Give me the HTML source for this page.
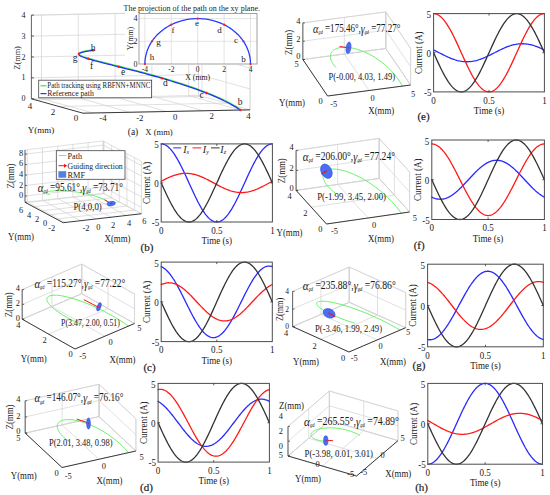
<!DOCTYPE html><html><head><meta charset="utf-8"><style>html,body{margin:0;padding:0;background:#fff;}svg{display:block;} .b{stroke:#222;stroke-width:0.2px;}</style></head><body><svg width="550" height="495" viewBox="0 0 550 495" font-family="Liberation Serif">
<rect width="550" height="495" fill="#fff"/>
<line x1="41.52" y1="98.59" x2="41.52" y2="14.99" stroke="#d2d2d2" stroke-width="0.7"/>
<line x1="78.32" y1="97.85" x2="78.32" y2="14.25" stroke="#d2d2d2" stroke-width="0.7"/>
<line x1="115.12" y1="97.11" x2="115.12" y2="13.51" stroke="#d2d2d2" stroke-width="0.7"/>
<line x1="151.92" y1="96.37" x2="151.92" y2="12.77" stroke="#d2d2d2" stroke-width="0.7"/>
<line x1="188.72" y1="95.63" x2="188.72" y2="12.03" stroke="#d2d2d2" stroke-width="0.7"/>
<line x1="31.4" y1="98.8" x2="31.4" y2="15.2" stroke="#d2d2d2" stroke-width="0.7"/>
<line x1="198.47" y1="95.44" x2="198.47" y2="11.84" stroke="#d2d2d2" stroke-width="0.7"/>
<line x1="31.4" y1="77.9" x2="198.47" y2="74.54" stroke="#d2d2d2" stroke-width="0.7"/>
<line x1="31.4" y1="57" x2="198.47" y2="53.64" stroke="#d2d2d2" stroke-width="0.7"/>
<line x1="31.4" y1="36.1" x2="198.47" y2="32.74" stroke="#d2d2d2" stroke-width="0.7"/>
<line x1="31.4" y1="15.2" x2="198.47" y2="11.84" stroke="#d2d2d2" stroke-width="0.7"/>
<line x1="31.4" y1="98.8" x2="198.47" y2="95.44" stroke="#d2d2d2" stroke-width="0.7"/>
<line x1="31.4" y1="15.2" x2="198.47" y2="11.84" stroke="#d2d2d2" stroke-width="0.7"/>
<line x1="250.07" y1="109.84" x2="250.07" y2="26.24" stroke="#d2d2d2" stroke-width="0.7"/>
<line x1="226.07" y1="103.14" x2="226.07" y2="19.54" stroke="#d2d2d2" stroke-width="0.7"/>
<line x1="202.07" y1="96.44" x2="202.07" y2="12.84" stroke="#d2d2d2" stroke-width="0.7"/>
<line x1="250.07" y1="109.84" x2="250.07" y2="26.24" stroke="#d2d2d2" stroke-width="0.7"/>
<line x1="198.47" y1="95.44" x2="198.47" y2="11.84" stroke="#d2d2d2" stroke-width="0.7"/>
<line x1="250.07" y1="88.94" x2="198.47" y2="74.54" stroke="#d2d2d2" stroke-width="0.7"/>
<line x1="250.07" y1="68.04" x2="198.47" y2="53.64" stroke="#d2d2d2" stroke-width="0.7"/>
<line x1="250.07" y1="47.14" x2="198.47" y2="32.74" stroke="#d2d2d2" stroke-width="0.7"/>
<line x1="250.07" y1="26.24" x2="198.47" y2="11.84" stroke="#d2d2d2" stroke-width="0.7"/>
<line x1="250.07" y1="109.84" x2="198.47" y2="95.44" stroke="#d2d2d2" stroke-width="0.7"/>
<line x1="250.07" y1="26.24" x2="198.47" y2="11.84" stroke="#d2d2d2" stroke-width="0.7"/>
<line x1="93.12" y1="113" x2="41.52" y2="98.59" stroke="#d2d2d2" stroke-width="0.7"/>
<line x1="129.92" y1="112.26" x2="78.32" y2="97.85" stroke="#d2d2d2" stroke-width="0.7"/>
<line x1="166.72" y1="111.52" x2="115.12" y2="97.11" stroke="#d2d2d2" stroke-width="0.7"/>
<line x1="203.52" y1="110.78" x2="151.92" y2="96.37" stroke="#d2d2d2" stroke-width="0.7"/>
<line x1="240.32" y1="110.04" x2="188.72" y2="95.63" stroke="#d2d2d2" stroke-width="0.7"/>
<line x1="83" y1="113.2" x2="250.07" y2="109.84" stroke="#d2d2d2" stroke-width="0.7"/>
<line x1="59" y1="106.5" x2="226.07" y2="103.14" stroke="#d2d2d2" stroke-width="0.7"/>
<line x1="35" y1="99.8" x2="202.07" y2="96.44" stroke="#d2d2d2" stroke-width="0.7"/>
<rect x="125" y="0" width="138" height="65" fill="#fff"/>
<line x1="31.4" y1="98.8" x2="83" y2="113.2" stroke="#3a3a3a" stroke-width="1"/>
<line x1="83" y1="113.2" x2="250.07" y2="109.84" stroke="#3a3a3a" stroke-width="1"/>
<line x1="31.4" y1="98.8" x2="31.4" y2="15.2" stroke="#666" stroke-width="1"/>
<line x1="31.4" y1="98.8" x2="33.9" y2="98.7" stroke="#333333" stroke-width="0.8"/>
<text x="0" y="0" font-size="8" text-anchor="end" dominant-baseline="central" fill="#1a1a1a" transform="translate(25.6 98.8) scale(1.0 1)" >0</text>
<line x1="31.4" y1="77.9" x2="33.9" y2="77.8" stroke="#333333" stroke-width="0.8"/>
<text x="0" y="0" font-size="8" text-anchor="end" dominant-baseline="central" fill="#1a1a1a" transform="translate(25.6 77.9) scale(1.0 1)" >1</text>
<line x1="31.4" y1="57" x2="33.9" y2="56.9" stroke="#333333" stroke-width="0.8"/>
<text x="0" y="0" font-size="8" text-anchor="end" dominant-baseline="central" fill="#1a1a1a" transform="translate(25.6 57) scale(1.0 1)" >2</text>
<line x1="31.4" y1="36.1" x2="33.9" y2="36" stroke="#333333" stroke-width="0.8"/>
<text x="0" y="0" font-size="8" text-anchor="end" dominant-baseline="central" fill="#1a1a1a" transform="translate(25.6 36.1) scale(1.0 1)" >3</text>
<line x1="31.4" y1="15.2" x2="33.9" y2="15.1" stroke="#333333" stroke-width="0.8"/>
<text x="0" y="0" font-size="8" text-anchor="end" dominant-baseline="central" fill="#1a1a1a" transform="translate(25.6 15.2) scale(1.0 1)" >4</text>
<text x="0" y="0" font-size="9" text-anchor="middle" dominant-baseline="central" fill="#1a1a1a" transform="translate(30 105.6) scale(1.0 1)" >4</text>
<text x="0" y="0" font-size="9" text-anchor="middle" dominant-baseline="central" fill="#1a1a1a" transform="translate(53 112) scale(1.0 1)" >2</text>
<text x="0" y="0" font-size="9" text-anchor="middle" dominant-baseline="central" fill="#1a1a1a" transform="translate(76 118) scale(1.0 1)" >0</text>
<text x="0" y="0" font-size="8.8" text-anchor="middle" dominant-baseline="central" fill="#1a1a1a" transform="translate(103 118.3) scale(1.0 1)" >-4</text>
<text x="0" y="0" font-size="8.8" text-anchor="middle" dominant-baseline="central" fill="#1a1a1a" transform="translate(139.8 117.6) scale(1.0 1)" >-2</text>
<text x="0" y="0" font-size="8.8" text-anchor="middle" dominant-baseline="central" fill="#1a1a1a" transform="translate(175.2 117) scale(1.0 1)" >0</text>
<text x="0" y="0" font-size="8.8" text-anchor="middle" dominant-baseline="central" fill="#1a1a1a" transform="translate(211.8 116.4) scale(1.0 1)" >2</text>
<text x="0" y="0" font-size="8.8" text-anchor="middle" dominant-baseline="central" fill="#1a1a1a" transform="translate(248.5 115.8) scale(1.0 1)" >4</text>
<text x="0" y="0" font-size="8.3" text-anchor="middle" dominant-baseline="central" fill="#1a1a1a" transform="translate(17.3 57.9) rotate(-90) scale(1.0 1)" >Z(mm)</text>
<text x="0" y="0" font-size="9" text-anchor="middle" dominant-baseline="central" fill="#1a1a1a" transform="translate(41 129.5) scale(1.0 1)" >Y(mm)</text>
<text x="0" y="0" font-size="9.5" text-anchor="middle" dominant-baseline="central" fill="#1a1a1a" transform="translate(133 131.5) scale(1.0 1)" >(a)</text>
<text x="0" y="0" font-size="8.6" text-anchor="middle" dominant-baseline="central" fill="#1a1a1a" transform="translate(159 132) scale(1.0 1)" >X (mm)</text>
<polyline points="240.62,109.44 238.68,108.13 236.63,106.82 234.47,105.52 232.21,104.22 229.84,102.93 227.38,101.65 224.83,100.37 222.18,99.1 219.46,97.84 216.65,96.58 213.76,95.34 210.81,94.11 207.78,92.89 204.69,91.68 201.55,90.49 198.35,89.3 195.1,88.13 191.81,86.98 188.48,85.84 185.12,84.72 181.73,83.61 178.32,82.52 174.89,81.45 171.45,80.4 168,79.36 164.55,78.34 161.1,77.34 157.67,76.36 154.24,75.4 150.84,74.46 147.46,73.54 144.11,72.63 140.8,71.75 137.53,70.89 134.3,70.05 131.12,69.23 128,68.44 124.94,67.66 121.95,66.9 119.02,66.17 116.17,65.45 113.39,64.76 110.7,64.08 108.1,63.43 105.58,62.79 103.16,62.18 100.84,61.59 98.63,61.01 96.51,60.45 94.51,59.92 92.62,59.4 90.84,58.89 89.18,58.41 87.64,57.94 86.22,57.49 84.93,57.06 83.76,56.64 82.72,56.23 81.81,55.84 81.04,55.46 80.39,55.1 79.88,54.75 79.5,54.41 79.26,54.08 79.16,53.76 79.19,53.45 79.35,53.15 79.65,52.86 80.08,52.57 80.65,52.29 81.36,52.02 82.19,51.75 83.15,51.49 84.25,51.23 85.47,50.97 86.82,50.72 88.29,50.46 89.88,50.21 91.59,49.95 93.42,49.7" fill="none" stroke="#5cf05c" stroke-width="1.3" stroke-linejoin="round" stroke-linecap="round" />
<polyline points="240.32,110.04 238.38,108.73 236.33,107.42 234.17,106.12 231.91,104.82 229.54,103.53 227.08,102.25 224.53,100.97 221.88,99.7 219.16,98.44 216.35,97.18 213.46,95.94 210.51,94.71 207.48,93.49 204.39,92.28 201.25,91.09 198.05,89.9 194.8,88.73 191.51,87.58 188.18,86.44 184.82,85.32 181.43,84.21 178.02,83.12 174.59,82.05 171.15,81 167.7,79.96 164.25,78.94 160.8,77.94 157.37,76.96 153.94,76 150.54,75.06 147.16,74.14 143.81,73.23 140.5,72.35 137.23,71.49 134,70.65 130.82,69.83 127.7,69.04 124.64,68.26 121.65,67.5 118.72,66.77 115.87,66.05 113.09,65.36 110.4,64.68 107.8,64.03 105.28,63.39 102.86,62.78 100.54,62.19 98.33,61.61 96.21,61.05 94.21,60.52 92.32,60 90.54,59.49 88.88,59.01 87.34,58.54 85.92,58.09 84.63,57.66 83.46,57.24 82.42,56.83 81.51,56.44 80.74,56.06 80.09,55.7 79.58,55.35 79.2,55.01 78.96,54.68 78.86,54.36 78.89,54.05 79.05,53.75 79.35,53.46 79.78,53.17 80.35,52.89 81.06,52.62 81.89,52.35 82.85,52.09 83.95,51.83 85.17,51.57 86.52,51.32 87.99,51.06 89.58,50.81 91.29,50.55 93.12,50.3" fill="none" stroke="#2233ee" stroke-width="1.3" stroke-linejoin="round" stroke-linecap="round" />
<circle cx="240.32" cy="110.04" r="1.3" fill="#ff2020"/>
<circle cx="206.46" cy="93.08" r="1.3" fill="#ff2020"/>
<circle cx="161.95" cy="78.27" r="1.3" fill="#ff2020"/>
<circle cx="118.72" cy="66.77" r="1.3" fill="#ff2020"/>
<circle cx="88.35" cy="58.85" r="1.3" fill="#ff2020"/>
<circle cx="78.98" cy="53.85" r="1.3" fill="#ff2020"/>
<circle cx="93.12" cy="50.3" r="1.3" fill="#ff2020"/>
<text x="0" y="0" font-size="9.5" text-anchor="middle" dominant-baseline="central" fill="#1a1a1a" transform="translate(93 47.5) scale(1.0 1)" >h</text>
<text x="0" y="0" font-size="9.5" text-anchor="middle" dominant-baseline="central" fill="#1a1a1a" transform="translate(75 57.5) scale(1.0 1)" >g</text>
<text x="0" y="0" font-size="9.5" text-anchor="middle" dominant-baseline="central" fill="#1a1a1a" transform="translate(91.5 66) scale(1.0 1)" >f</text>
<text x="0" y="0" font-size="9.5" text-anchor="middle" dominant-baseline="central" fill="#1a1a1a" transform="translate(123 71.5) scale(1.0 1)" >e</text>
<text x="0" y="0" font-size="9.5" text-anchor="middle" dominant-baseline="central" fill="#1a1a1a" transform="translate(165.3 83) scale(1.0 1)" >d</text>
<text x="0" y="0" font-size="9.5" text-anchor="middle" dominant-baseline="central" fill="#1a1a1a" transform="translate(201.7 95) scale(1.0 1)" >c</text>
<text x="0" y="0" font-size="9.5" text-anchor="middle" dominant-baseline="central" fill="#1a1a1a" transform="translate(240 102) scale(1.0 1)" >b</text>
<rect x="38.7" y="80.2" width="112.9" height="17.6" fill="#fff" stroke="#444" stroke-width="0.8"/>
<line x1="40.5" y1="85.8" x2="46.5" y2="85.8" stroke="#33ee33" stroke-width="1.2"/>
<line x1="40.5" y1="93.6" x2="46.5" y2="93.6" stroke="#2233ff" stroke-width="1.2"/>
<text x="47.3" y="85.8" font-size="8.4" dominant-baseline="central" fill="#1a1a1a" textLength="103" lengthAdjust="spacingAndGlyphs">Path tracking using RBFNN+MNNC</text>
<text x="47.3" y="93.6" font-size="8.4" dominant-baseline="central" fill="#1a1a1a" textLength="46.5" lengthAdjust="spacingAndGlyphs">Reference path</text>
<line x1="144.9" y1="13.5" x2="144.9" y2="64" stroke="#d2d2d2" stroke-width="0.6"/>
<line x1="171.3" y1="13.5" x2="171.3" y2="64" stroke="#d2d2d2" stroke-width="0.6"/>
<line x1="197.7" y1="13.5" x2="197.7" y2="64" stroke="#d2d2d2" stroke-width="0.6"/>
<line x1="224.1" y1="13.5" x2="224.1" y2="64" stroke="#d2d2d2" stroke-width="0.6"/>
<line x1="250.5" y1="13.5" x2="250.5" y2="64" stroke="#d2d2d2" stroke-width="0.6"/>
<line x1="139" y1="41.3" x2="257" y2="41.3" stroke="#d2d2d2" stroke-width="0.6"/>
<line x1="139" y1="18.6" x2="257" y2="18.6" stroke="#d2d2d2" stroke-width="0.6"/>
<rect x="139" y="13.5" width="118" height="50.5" fill="none" stroke="#8a8a8a" stroke-width="0.8"/>
<polyline points="250.5,64 250.47,62.57 250.4,61.15 250.27,59.73 250.08,58.31 249.85,56.9 249.56,55.49 249.23,54.1 248.84,52.71 248.4,51.33 247.92,49.97 247.38,48.62 246.79,47.29 246.16,45.97 245.47,44.67 244.75,43.39 243.97,42.13 243.15,40.89 242.28,39.67 241.37,38.48 240.42,37.31 239.42,36.17 238.38,35.06 237.31,33.98 236.19,32.92 235.04,31.9 233.84,30.9 232.62,29.94 231.36,29.02 230.06,28.13 228.74,27.27 227.38,26.45 225.99,25.67 224.58,24.92 223.14,24.22 221.67,23.55 220.18,22.92 218.67,22.33 217.14,21.79 215.59,21.28 214.02,20.82 212.43,20.4 210.83,20.03 209.22,19.69 207.59,19.4 205.96,19.16 204.32,18.96 202.67,18.8 201.02,18.69 199.36,18.62 197.7,18.6 196.04,18.62 194.38,18.69 192.73,18.8 191.08,18.96 189.44,19.16 187.81,19.4 186.18,19.69 184.57,20.03 182.97,20.4 181.38,20.82 179.81,21.28 178.26,21.79 176.73,22.33 175.22,22.92 173.73,23.55 172.26,24.22 170.82,24.92 169.41,25.67 168.02,26.45 166.66,27.27 165.34,28.13 164.04,29.02 162.78,29.94 161.56,30.9 160.36,31.9 159.21,32.92 158.09,33.98 157.02,35.06 155.98,36.17 154.98,37.31 154.03,38.48 153.12,39.67 152.25,40.89 151.43,42.13 150.65,43.39 149.93,44.67 149.24,45.97 148.61,47.29 148.02,48.62 147.48,49.97 147,51.33 146.56,52.71 146.17,54.1 145.84,55.49 145.55,56.9 145.32,58.31 145.13,59.73 145,61.15 144.93,62.57 144.9,64" fill="none" stroke="#2a3cff" stroke-width="1.3" stroke-linejoin="round" stroke-linecap="round" />
<circle cx="250.5" cy="64" r="1.1" fill="#ff2020"/>
<circle cx="243.43" cy="41.3" r="1.1" fill="#ff2020"/>
<circle cx="224.1" cy="24.68" r="1.1" fill="#ff2020"/>
<circle cx="197.7" cy="18.6" r="1.1" fill="#ff2020"/>
<circle cx="171.3" cy="24.68" r="1.1" fill="#ff2020"/>
<circle cx="151.97" cy="41.3" r="1.1" fill="#ff2020"/>
<circle cx="144.9" cy="64" r="1.1" fill="#ff2020"/>
<text x="0" y="0" font-size="8" text-anchor="end" dominant-baseline="central" fill="#1a1a1a" transform="translate(137.5 64) scale(1.0 1)" >0</text>
<text x="0" y="0" font-size="8" text-anchor="end" dominant-baseline="central" fill="#1a1a1a" transform="translate(137.5 41.3) scale(1.0 1)" >2</text>
<text x="0" y="0" font-size="8" text-anchor="end" dominant-baseline="central" fill="#1a1a1a" transform="translate(137.5 18.6) scale(1.0 1)" >4</text>
<text x="0" y="0" font-size="7.5" text-anchor="middle" dominant-baseline="central" fill="#1a1a1a" transform="translate(144.9 69.8) scale(1.0 1)" >-4</text>
<text x="0" y="0" font-size="7.5" text-anchor="middle" dominant-baseline="central" fill="#1a1a1a" transform="translate(171.3 69.8) scale(1.0 1)" >-2</text>
<text x="0" y="0" font-size="7.5" text-anchor="middle" dominant-baseline="central" fill="#1a1a1a" transform="translate(197.7 69.8) scale(1.0 1)" >0</text>
<text x="0" y="0" font-size="7.5" text-anchor="middle" dominant-baseline="central" fill="#1a1a1a" transform="translate(224.1 69.8) scale(1.0 1)" >2</text>
<text x="0" y="0" font-size="7.5" text-anchor="middle" dominant-baseline="central" fill="#1a1a1a" transform="translate(250.5 69.8) scale(1.0 1)" >4</text>
<text x="0" y="0" font-size="7.8" text-anchor="middle" dominant-baseline="central" fill="#1a1a1a" transform="translate(197.7 77.5) scale(1.0 1)" >X (mm)</text>
<text x="0" y="0" font-size="8" text-anchor="middle" dominant-baseline="central" fill="#1a1a1a" transform="translate(130.3 38.5) rotate(-90) scale(1.0 1)" >Y(mm)</text>
<text x="123.5" y="7.5" font-size="9" dominant-baseline="central" fill="#1a1a1a" textLength="136.5" lengthAdjust="spacingAndGlyphs">The projection of the path on the xy plane.</text>
<text x="0" y="0" font-size="9" text-anchor="middle" dominant-baseline="central" fill="#1a1a1a" transform="translate(197 22.5) scale(1.0 1)" >e</text>
<text x="0" y="0" font-size="9" text-anchor="middle" dominant-baseline="central" fill="#1a1a1a" transform="translate(173 30) scale(1.0 1)" >f</text>
<text x="0" y="0" font-size="9" text-anchor="middle" dominant-baseline="central" fill="#1a1a1a" transform="translate(219.6 30) scale(1.0 1)" >d</text>
<text x="0" y="0" font-size="9" text-anchor="middle" dominant-baseline="central" fill="#1a1a1a" transform="translate(158.5 41.8) scale(1.0 1)" >g</text>
<text x="0" y="0" font-size="9" text-anchor="middle" dominant-baseline="central" fill="#1a1a1a" transform="translate(236 40) scale(1.0 1)" >c</text>
<text x="0" y="0" font-size="9" text-anchor="middle" dominant-baseline="central" fill="#1a1a1a" transform="translate(152 56.5) scale(1.0 1)" >h</text>
<text x="0" y="0" font-size="9" text-anchor="middle" dominant-baseline="central" fill="#1a1a1a" transform="translate(243.6 58.5) scale(1.0 1)" >b</text>
<line x1="27.28" y1="202.04" x2="27.28" y2="149.64" stroke="#d2d2d2" stroke-width="0.7"/>
<line x1="42.48" y1="200.3" x2="42.48" y2="147.9" stroke="#d2d2d2" stroke-width="0.7"/>
<line x1="57.68" y1="198.56" x2="57.68" y2="146.16" stroke="#d2d2d2" stroke-width="0.7"/>
<line x1="72.88" y1="196.82" x2="72.88" y2="144.42" stroke="#d2d2d2" stroke-width="0.7"/>
<line x1="88.08" y1="195.08" x2="88.08" y2="142.68" stroke="#d2d2d2" stroke-width="0.7"/>
<line x1="103.28" y1="193.34" x2="103.28" y2="140.94" stroke="#d2d2d2" stroke-width="0.7"/>
<line x1="25" y1="202.3" x2="25" y2="149.9" stroke="#d2d2d2" stroke-width="0.7"/>
<line x1="103.28" y1="193.34" x2="103.28" y2="140.94" stroke="#d2d2d2" stroke-width="0.7"/>
<line x1="25" y1="196.01" x2="103.28" y2="187.05" stroke="#d2d2d2" stroke-width="0.7"/>
<line x1="25" y1="185.53" x2="103.28" y2="176.57" stroke="#d2d2d2" stroke-width="0.7"/>
<line x1="25" y1="175.05" x2="103.28" y2="166.09" stroke="#d2d2d2" stroke-width="0.7"/>
<line x1="25" y1="164.57" x2="103.28" y2="155.61" stroke="#d2d2d2" stroke-width="0.7"/>
<line x1="25" y1="154.09" x2="103.28" y2="145.13" stroke="#d2d2d2" stroke-width="0.7"/>
<line x1="25" y1="202.3" x2="103.28" y2="193.34" stroke="#d2d2d2" stroke-width="0.7"/>
<line x1="25" y1="149.9" x2="103.28" y2="140.94" stroke="#d2d2d2" stroke-width="0.7"/>
<line x1="134.6" y1="210.07" x2="134.6" y2="157.67" stroke="#d2d2d2" stroke-width="0.7"/>
<line x1="126.96" y1="205.99" x2="126.96" y2="153.59" stroke="#d2d2d2" stroke-width="0.7"/>
<line x1="119.32" y1="201.91" x2="119.32" y2="149.51" stroke="#d2d2d2" stroke-width="0.7"/>
<line x1="111.68" y1="197.83" x2="111.68" y2="145.43" stroke="#d2d2d2" stroke-width="0.7"/>
<line x1="104.04" y1="193.75" x2="104.04" y2="141.35" stroke="#d2d2d2" stroke-width="0.7"/>
<line x1="141.48" y1="213.74" x2="141.48" y2="161.34" stroke="#d2d2d2" stroke-width="0.7"/>
<line x1="103.28" y1="193.34" x2="103.28" y2="140.94" stroke="#d2d2d2" stroke-width="0.7"/>
<line x1="141.48" y1="207.45" x2="103.28" y2="187.05" stroke="#d2d2d2" stroke-width="0.7"/>
<line x1="141.48" y1="196.97" x2="103.28" y2="176.57" stroke="#d2d2d2" stroke-width="0.7"/>
<line x1="141.48" y1="186.49" x2="103.28" y2="166.09" stroke="#d2d2d2" stroke-width="0.7"/>
<line x1="141.48" y1="176.01" x2="103.28" y2="155.61" stroke="#d2d2d2" stroke-width="0.7"/>
<line x1="141.48" y1="165.53" x2="103.28" y2="145.13" stroke="#d2d2d2" stroke-width="0.7"/>
<line x1="141.48" y1="213.74" x2="103.28" y2="193.34" stroke="#d2d2d2" stroke-width="0.7"/>
<line x1="141.48" y1="161.34" x2="103.28" y2="140.94" stroke="#d2d2d2" stroke-width="0.7"/>
<line x1="65.48" y1="222.44" x2="27.28" y2="202.04" stroke="#d2d2d2" stroke-width="0.7"/>
<line x1="80.68" y1="220.7" x2="42.48" y2="200.3" stroke="#d2d2d2" stroke-width="0.7"/>
<line x1="95.88" y1="218.96" x2="57.68" y2="198.56" stroke="#d2d2d2" stroke-width="0.7"/>
<line x1="111.08" y1="217.22" x2="72.88" y2="196.82" stroke="#d2d2d2" stroke-width="0.7"/>
<line x1="126.28" y1="215.48" x2="88.08" y2="195.08" stroke="#d2d2d2" stroke-width="0.7"/>
<line x1="141.48" y1="213.74" x2="103.28" y2="193.34" stroke="#d2d2d2" stroke-width="0.7"/>
<line x1="56.32" y1="219.03" x2="134.6" y2="210.07" stroke="#d2d2d2" stroke-width="0.7"/>
<line x1="48.68" y1="214.95" x2="126.96" y2="205.99" stroke="#d2d2d2" stroke-width="0.7"/>
<line x1="41.04" y1="210.87" x2="119.32" y2="201.91" stroke="#d2d2d2" stroke-width="0.7"/>
<line x1="33.4" y1="206.79" x2="111.68" y2="197.83" stroke="#d2d2d2" stroke-width="0.7"/>
<line x1="25.76" y1="202.71" x2="104.04" y2="193.75" stroke="#d2d2d2" stroke-width="0.7"/>
<polyline points="110.26,203.44 109.64,202.92 108.97,202.42 108.26,201.91 107.5,201.42 106.7,200.93 105.86,200.45 104.98,199.98 104.05,199.52 103.1,199.06 102.1,198.62 101.07,198.18 100.01,197.76 98.92,197.34 97.8,196.94 96.65,196.54 95.48,196.16 94.28,195.79 93.06,195.44 91.82,195.09 90.56,194.76 89.28,194.44 87.99,194.13 86.68,193.84 85.37,193.56 84.05,193.29 82.72,193.03 81.39,192.79 80.05,192.57 78.71,192.35 77.38,192.15 76.05,191.97 74.73,191.79 73.41,191.64 72.1,191.49 70.81,191.36 69.53,191.24 68.26,191.14 67.02,191.04 65.79,190.97 64.58,190.9 63.4,190.85 62.25,190.8 61.12,190.78 60.02,190.76 58.95,190.75 57.91,190.76 56.91,190.77 55.94,190.8 55.01,190.84 54.11,190.89 53.26,190.94 52.45,191.01 51.68,191.09 50.95,191.17 50.27,191.26 49.63,191.36 49.04,191.46 48.5,191.58 48.01,191.7 47.56,191.82 47.17,191.95 46.82,192.08 46.53,192.22 46.29,192.36 46.1,192.51 45.96,192.65 45.87,192.8 45.84,192.95 45.86,193.1 45.93,193.26 46.05,193.41 46.23,193.56 46.46,193.71 46.74,193.86 47.07,194 47.45,194.15 47.88,194.29 48.36,194.42 48.89,194.55 49.46,194.68" fill="none" stroke="#5cf05c" stroke-width="0.95" stroke-linejoin="round" stroke-linecap="round" />
<line x1="104.6" y1="199.8" x2="110.5" y2="203.4" stroke="#ff1010" stroke-width="1.0"/>
<ellipse cx="111.2" cy="203.6" rx="4.2" ry="2.2" transform="rotate(-10 111.2 203.6)" fill="#4a6ef0" stroke="#2a4ae0" stroke-width="0.6"/>
<circle cx="111.2" cy="203.6" r="0.8" fill="#ff1010"/>
<line x1="25" y1="202.3" x2="63.2" y2="222.7" stroke="#3a3a3a" stroke-width="1"/>
<line x1="63.2" y1="222.7" x2="141.48" y2="213.74" stroke="#3a3a3a" stroke-width="1"/>
<line x1="25" y1="202.3" x2="25" y2="149.9" stroke="#666" stroke-width="1"/>
<line x1="25" y1="196.01" x2="27" y2="196.01" stroke="#333333" stroke-width="0.7"/>
<line x1="25" y1="185.53" x2="27" y2="185.53" stroke="#333333" stroke-width="0.7"/>
<line x1="25" y1="175.05" x2="27" y2="175.05" stroke="#333333" stroke-width="0.7"/>
<line x1="25" y1="164.57" x2="27" y2="164.57" stroke="#333333" stroke-width="0.7"/>
<line x1="25" y1="154.09" x2="27" y2="154.09" stroke="#333333" stroke-width="0.7"/>
<line x1="25" y1="202.3" x2="27" y2="202.3" stroke="#333333" stroke-width="0.7"/>
<text x="0" y="0" font-size="8.4" text-anchor="middle" dominant-baseline="central" fill="#1a1a1a" transform="translate(21 153.7) scale(1.0 1)" >8</text>
<text x="0" y="0" font-size="8.4" text-anchor="middle" dominant-baseline="central" fill="#1a1a1a" transform="translate(21 163.8) scale(1.0 1)" >6</text>
<text x="0" y="0" font-size="8.4" text-anchor="middle" dominant-baseline="central" fill="#1a1a1a" transform="translate(21 174.7) scale(1.0 1)" >4</text>
<text x="0" y="0" font-size="8.4" text-anchor="middle" dominant-baseline="central" fill="#1a1a1a" transform="translate(21 185.5) scale(1.0 1)" >2</text>
<text x="0" y="0" font-size="8.4" text-anchor="middle" dominant-baseline="central" fill="#1a1a1a" transform="translate(21 195.6) scale(1.0 1)" >0</text>
<text x="0" y="0" font-size="8.4" text-anchor="middle" dominant-baseline="central" fill="#1a1a1a" transform="translate(21.1 210.7) scale(1.0 1)" >6</text>
<text x="0" y="0" font-size="8.4" text-anchor="middle" dominant-baseline="central" fill="#1a1a1a" transform="translate(29.1 215.2) scale(1.0 1)" >4</text>
<text x="0" y="0" font-size="8.4" text-anchor="middle" dominant-baseline="central" fill="#1a1a1a" transform="translate(37 219.8) scale(1.0 1)" >2</text>
<text x="0" y="0" font-size="8.4" text-anchor="middle" dominant-baseline="central" fill="#1a1a1a" transform="translate(45 223.2) scale(1.0 1)" >0</text>
<text x="0" y="0" font-size="8.4" text-anchor="middle" dominant-baseline="central" fill="#1a1a1a" transform="translate(51.8 228.2) scale(1.0 1)" >-2</text>
<text x="0" y="0" font-size="8.4" text-anchor="middle" dominant-baseline="central" fill="#1a1a1a" transform="translate(85.9 228.9) scale(1.0 1)" >-2</text>
<text x="0" y="0" font-size="8.4" text-anchor="middle" dominant-baseline="central" fill="#1a1a1a" transform="translate(98.4 227.7) scale(1.0 1)" >0</text>
<text x="0" y="0" font-size="8.4" text-anchor="middle" dominant-baseline="central" fill="#1a1a1a" transform="translate(113.2 225.5) scale(1.0 1)" >2</text>
<text x="0" y="0" font-size="8.4" text-anchor="middle" dominant-baseline="central" fill="#1a1a1a" transform="translate(129 223.2) scale(1.0 1)" >4</text>
<text x="0" y="0" font-size="8.4" text-anchor="middle" dominant-baseline="central" fill="#1a1a1a" transform="translate(144.3 221.8) scale(1.0 1)" >6</text>
<text x="0" y="0" font-size="10.08" text-anchor="middle" dominant-baseline="central" fill="#1a1a1a" transform="translate(11.1 176) rotate(-90) scale(0.875 1)" >Z(mm)</text>
<text x="0" y="0" font-size="10.08" text-anchor="middle" dominant-baseline="central" fill="#1a1a1a" transform="translate(21 236.8) scale(0.875 1)" >Y(mm)</text>
<text x="0" y="0" font-size="10.08" text-anchor="middle" dominant-baseline="central" fill="#1a1a1a" transform="translate(117.5 239.3) scale(0.875 1)" >X(mm)</text>
<text x="37.7" y="186.8" font-size="11.8" dominant-baseline="central" fill="#1a1a1a" textLength="85.3" lengthAdjust="spacingAndGlyphs"><tspan font-style="italic" font-size="13.5">α</tspan><tspan font-style="italic" font-size="5.5" dy="4.5">gd</tspan><tspan dy="-4.5"> =</tspan>95.61°,<tspan font-style="italic" font-size="13">γ</tspan><tspan font-style="italic" font-size="5.5" dy="4.5">gd</tspan><tspan dy="-4.5"> =</tspan>73.71°</text>
<text x="73.4" y="206.2" font-size="9.6" dominant-baseline="central" fill="#1a1a1a" textLength="28.4" lengthAdjust="spacingAndGlyphs">P(4,0,0)</text>
<rect x="56.3" y="150.7" width="68.7" height="28.6" fill="#fff" stroke="#444" stroke-width="0.8"/>
<line x1="58.5" y1="155.6" x2="66.5" y2="155.6" stroke="#70f070" stroke-width="1"/>
<line x1="58.5" y1="165.7" x2="65" y2="165.7" stroke="#ff1010" stroke-width="1"/>
<path d="M64,163.7 L67.2,165.7 L64,167.7 Z" fill="#ff1010"/>
<rect x="58.4" y="171.2" width="7.8" height="6.5" fill="#5080e0"/>
<text x="67.5" y="156.3" font-size="9" dominant-baseline="central" fill="#1a1a1a" textLength="14.5" lengthAdjust="spacingAndGlyphs">Path</text>
<text x="67.5" y="165.7" font-size="9" dominant-baseline="central" fill="#1a1a1a" textLength="55.2" lengthAdjust="spacingAndGlyphs">Guiding direction</text>
<text x="67.5" y="174.8" font-size="9" dominant-baseline="central" fill="#1a1a1a" textLength="17.5" lengthAdjust="spacingAndGlyphs">RMF</text>
<line x1="22.2" y1="319.2" x2="22.2" y2="289.6" stroke="#d2d2d2" stroke-width="0.7"/>
<line x1="51.95" y1="306.45" x2="51.95" y2="276.85" stroke="#d2d2d2" stroke-width="0.7"/>
<line x1="81.7" y1="293.7" x2="81.7" y2="264.1" stroke="#d2d2d2" stroke-width="0.7"/>
<line x1="22.2" y1="319.2" x2="22.2" y2="289.6" stroke="#d2d2d2" stroke-width="0.7"/>
<line x1="81.7" y1="293.7" x2="81.7" y2="264.1" stroke="#d2d2d2" stroke-width="0.7"/>
<line x1="22.2" y1="319.2" x2="81.7" y2="293.7" stroke="#d2d2d2" stroke-width="0.7"/>
<line x1="22.2" y1="304.4" x2="81.7" y2="278.9" stroke="#d2d2d2" stroke-width="0.7"/>
<line x1="22.2" y1="289.6" x2="81.7" y2="264.1" stroke="#d2d2d2" stroke-width="0.7"/>
<line x1="22.2" y1="319.2" x2="81.7" y2="293.7" stroke="#d2d2d2" stroke-width="0.7"/>
<line x1="22.2" y1="289.6" x2="81.7" y2="264.1" stroke="#d2d2d2" stroke-width="0.7"/>
<line x1="134.5" y1="323.5" x2="134.5" y2="293.9" stroke="#d2d2d2" stroke-width="0.7"/>
<line x1="108.1" y1="308.6" x2="108.1" y2="279" stroke="#d2d2d2" stroke-width="0.7"/>
<line x1="81.7" y1="293.7" x2="81.7" y2="264.1" stroke="#d2d2d2" stroke-width="0.7"/>
<line x1="134.5" y1="323.5" x2="134.5" y2="293.9" stroke="#d2d2d2" stroke-width="0.7"/>
<line x1="81.7" y1="293.7" x2="81.7" y2="264.1" stroke="#d2d2d2" stroke-width="0.7"/>
<line x1="134.5" y1="323.5" x2="81.7" y2="293.7" stroke="#d2d2d2" stroke-width="0.7"/>
<line x1="134.5" y1="308.7" x2="81.7" y2="278.9" stroke="#d2d2d2" stroke-width="0.7"/>
<line x1="134.5" y1="293.9" x2="81.7" y2="264.1" stroke="#d2d2d2" stroke-width="0.7"/>
<line x1="134.5" y1="323.5" x2="81.7" y2="293.7" stroke="#d2d2d2" stroke-width="0.7"/>
<line x1="134.5" y1="293.9" x2="81.7" y2="264.1" stroke="#d2d2d2" stroke-width="0.7"/>
<line x1="75" y1="349" x2="22.2" y2="319.2" stroke="#d2d2d2" stroke-width="0.7"/>
<line x1="104.75" y1="336.25" x2="51.95" y2="306.45" stroke="#d2d2d2" stroke-width="0.7"/>
<line x1="134.5" y1="323.5" x2="81.7" y2="293.7" stroke="#d2d2d2" stroke-width="0.7"/>
<line x1="75" y1="349" x2="134.5" y2="323.5" stroke="#d2d2d2" stroke-width="0.7"/>
<line x1="48.6" y1="334.1" x2="108.1" y2="308.6" stroke="#d2d2d2" stroke-width="0.7"/>
<line x1="22.2" y1="319.2" x2="81.7" y2="293.7" stroke="#d2d2d2" stroke-width="0.7"/>
<polyline points="128.55,326.05 126.46,324.61 124.33,323.19 122.18,321.79 120,320.4 117.79,319.04 115.57,317.71 113.32,316.4 111.07,315.12 108.8,313.87 106.53,312.65 104.26,311.46 101.99,310.3 99.72,309.18 97.45,308.1 95.2,307.05 92.97,306.04 90.75,305.07 88.56,304.15 86.39,303.26 84.24,302.42 82.13,301.62 80.06,300.86 78.02,300.15 76.02,299.49 74.07,298.87 72.17,298.3 70.31,297.77 68.51,297.3 66.76,296.87 65.08,296.49 63.45,296.16 61.89,295.88 60.39,295.64 58.96,295.46 57.61,295.32 56.32,295.23 55.11,295.19 53.98,295.2 52.93,295.25 51.95,295.35 51.06,295.5 50.25,295.69 49.52,295.92 48.88,296.2 48.32,296.53 47.85,296.89 47.47,297.3 47.18,297.74 46.98,298.22 46.86,298.75 46.84,299.31 46.9,299.9 47.05,300.53 47.3,301.19 47.63,301.88 48.04,302.6 48.55,303.34 49.14,304.12 49.82,304.92 50.59,305.74 51.43,306.58 52.36,307.45 53.37,308.33 54.46,309.23 55.63,310.14 56.87,311.06 58.19,312 59.57,312.94 61.03,313.89 62.56,314.84 64.15,315.8 65.8,316.76 67.51,317.72 69.28,318.68 71.11,319.63 72.98,320.57 74.91,321.51 76.88,322.44 78.9,323.35 80.95,324.25" fill="none" stroke="#5cf05c" stroke-width="0.95" stroke-linejoin="round" stroke-linecap="round" />
<line x1="83.8" y1="299.7" x2="99" y2="307.5" stroke="#ff1010" stroke-width="1.0"/>
<ellipse cx="99" cy="306.8" rx="1.8" ry="4.4" transform="rotate(20 99 306.8)" fill="#4a6ef0" stroke="#2a4ae0" stroke-width="0.6"/>
<circle cx="99" cy="306.8" r="0.8" fill="#ff1010"/>
<line x1="22.2" y1="319.2" x2="75" y2="349" stroke="#3a3a3a" stroke-width="1"/>
<line x1="75" y1="349" x2="134.5" y2="323.5" stroke="#3a3a3a" stroke-width="1"/>
<line x1="22.2" y1="319.2" x2="22.2" y2="289.6" stroke="#666" stroke-width="1"/>
<line x1="22.2" y1="319.2" x2="24.2" y2="319.2" stroke="#333333" stroke-width="0.7"/>
<line x1="22.2" y1="304.4" x2="24.2" y2="304.4" stroke="#333333" stroke-width="0.7"/>
<line x1="22.2" y1="289.6" x2="24.2" y2="289.6" stroke="#333333" stroke-width="0.7"/>
<line x1="22.2" y1="319.2" x2="24.2" y2="319.2" stroke="#333333" stroke-width="0.7"/>
<text x="0" y="0" font-size="8.4" text-anchor="middle" dominant-baseline="central" fill="#1a1a1a" transform="translate(17.8 288.7) scale(1.0 1)" >4</text>
<text x="0" y="0" font-size="8.4" text-anchor="middle" dominant-baseline="central" fill="#1a1a1a" transform="translate(17.8 303.4) scale(1.0 1)" >2</text>
<text x="0" y="0" font-size="8.4" text-anchor="middle" dominant-baseline="central" fill="#1a1a1a" transform="translate(17.8 318.2) scale(1.0 1)" >0</text>
<text x="0" y="0" font-size="8.4" text-anchor="middle" dominant-baseline="central" fill="#1a1a1a" transform="translate(18.3 325) scale(1.0 1)" >4</text>
<text x="0" y="0" font-size="8.4" text-anchor="middle" dominant-baseline="central" fill="#1a1a1a" transform="translate(44.5 340.3) scale(1.0 1)" >2</text>
<text x="0" y="0" font-size="8.4" text-anchor="middle" dominant-baseline="central" fill="#1a1a1a" transform="translate(70.7 354.8) scale(1.0 1)" >0</text>
<text x="0" y="0" font-size="8.4" text-anchor="middle" dominant-baseline="central" fill="#1a1a1a" transform="translate(82.7 356.4) scale(1.0 1)" >-5</text>
<text x="0" y="0" font-size="8.4" text-anchor="middle" dominant-baseline="central" fill="#1a1a1a" transform="translate(110.7 342.9) scale(1.0 1)" >0</text>
<text x="0" y="0" font-size="8.4" text-anchor="middle" dominant-baseline="central" fill="#1a1a1a" transform="translate(139.4 328.9) scale(1.0 1)" >5</text>
<text x="0" y="0" font-size="10.08" text-anchor="middle" dominant-baseline="central" fill="#1a1a1a" transform="translate(8.9 304.7) rotate(-90) scale(0.875 1)" >Z(mm)</text>
<text x="0" y="0" font-size="10.08" text-anchor="middle" dominant-baseline="central" fill="#1a1a1a" transform="translate(33.7 359.3) scale(0.875 1)" >Y(mm)</text>
<text x="0" y="0" font-size="10.08" text-anchor="middle" dominant-baseline="central" fill="#1a1a1a" transform="translate(122.5 360) scale(0.875 1)" >X(mm)</text>
<text x="34.4" y="282.5" font-size="11.8" dominant-baseline="central" fill="#1a1a1a" textLength="90.8" lengthAdjust="spacingAndGlyphs"><tspan font-style="italic" font-size="13.5">α</tspan><tspan font-style="italic" font-size="5.5" dy="4.5">gd</tspan><tspan dy="-4.5"> =</tspan>115.27°,<tspan font-style="italic" font-size="13">γ</tspan><tspan font-style="italic" font-size="5.5" dy="4.5">gd</tspan><tspan dy="-4.5"> =</tspan>77.22°</text>
<text x="61.1" y="322.6" font-size="9.6" dominant-baseline="central" fill="#1a1a1a" textLength="58.8" lengthAdjust="spacingAndGlyphs">P(3.47, 2.00, 0.51)</text>
<line x1="25.2" y1="433.1" x2="25.2" y2="400.78" stroke="#d2d2d2" stroke-width="0.7"/>
<line x1="62.15" y1="424.85" x2="62.15" y2="392.53" stroke="#d2d2d2" stroke-width="0.7"/>
<line x1="99.1" y1="416.6" x2="99.1" y2="384.28" stroke="#d2d2d2" stroke-width="0.7"/>
<line x1="25.2" y1="433.1" x2="25.2" y2="400.78" stroke="#d2d2d2" stroke-width="0.7"/>
<line x1="99.1" y1="416.6" x2="99.1" y2="384.28" stroke="#d2d2d2" stroke-width="0.7"/>
<line x1="25.2" y1="433.1" x2="99.1" y2="416.6" stroke="#d2d2d2" stroke-width="0.7"/>
<line x1="25.2" y1="416.94" x2="99.1" y2="400.44" stroke="#d2d2d2" stroke-width="0.7"/>
<line x1="25.2" y1="400.78" x2="99.1" y2="384.28" stroke="#d2d2d2" stroke-width="0.7"/>
<line x1="25.2" y1="433.1" x2="99.1" y2="416.6" stroke="#d2d2d2" stroke-width="0.7"/>
<line x1="25.2" y1="400.78" x2="99.1" y2="384.28" stroke="#d2d2d2" stroke-width="0.7"/>
<line x1="135.9" y1="451" x2="135.9" y2="418.68" stroke="#d2d2d2" stroke-width="0.7"/>
<line x1="99.1" y1="416.6" x2="99.1" y2="384.28" stroke="#d2d2d2" stroke-width="0.7"/>
<line x1="135.9" y1="451" x2="135.9" y2="418.68" stroke="#d2d2d2" stroke-width="0.7"/>
<line x1="99.1" y1="416.6" x2="99.1" y2="384.28" stroke="#d2d2d2" stroke-width="0.7"/>
<line x1="135.9" y1="451" x2="99.1" y2="416.6" stroke="#d2d2d2" stroke-width="0.7"/>
<line x1="135.9" y1="434.84" x2="99.1" y2="400.44" stroke="#d2d2d2" stroke-width="0.7"/>
<line x1="135.9" y1="418.68" x2="99.1" y2="384.28" stroke="#d2d2d2" stroke-width="0.7"/>
<line x1="135.9" y1="451" x2="99.1" y2="416.6" stroke="#d2d2d2" stroke-width="0.7"/>
<line x1="135.9" y1="418.68" x2="99.1" y2="384.28" stroke="#d2d2d2" stroke-width="0.7"/>
<line x1="62" y1="467.5" x2="25.2" y2="433.1" stroke="#d2d2d2" stroke-width="0.7"/>
<line x1="98.95" y1="459.25" x2="62.15" y2="424.85" stroke="#d2d2d2" stroke-width="0.7"/>
<line x1="135.9" y1="451" x2="99.1" y2="416.6" stroke="#d2d2d2" stroke-width="0.7"/>
<line x1="62" y1="467.5" x2="135.9" y2="451" stroke="#d2d2d2" stroke-width="0.7"/>
<line x1="25.2" y1="433.1" x2="99.1" y2="416.6" stroke="#d2d2d2" stroke-width="0.7"/>
<polyline points="128.51,452.65 127.33,451.27 126.11,449.91 124.84,448.55 123.54,447.21 122.2,445.89 120.82,444.59 119.41,443.31 117.97,442.04 116.49,440.81 114.99,439.59 113.47,438.4 111.92,437.24 110.36,436.11 108.77,435 107.17,433.93 105.56,432.89 103.94,431.88 102.31,430.9 100.67,429.97 99.03,429.06 97.4,428.2 95.76,427.37 94.13,426.58 92.51,425.83 90.89,425.13 89.29,424.46 87.71,423.83 86.14,423.25 84.59,422.71 83.06,422.21 81.56,421.75 80.09,421.34 78.64,420.97 77.22,420.65 75.84,420.37 74.5,420.13 73.19,419.93 71.92,419.78 70.69,419.68 69.51,419.61 68.37,419.59 67.28,419.61 66.24,419.67 65.25,419.77 64.31,419.91 63.42,420.09 62.59,420.31 61.82,420.57 61.1,420.87 60.44,421.2 59.84,421.57 59.3,421.97 58.82,422.4 58.4,422.87 58.05,423.37 57.76,423.9 57.53,424.45 57.37,425.04 57.27,425.64 57.23,426.28 57.26,426.93 57.35,427.61 57.51,428.31 57.73,429.02 58.02,429.75 58.36,430.5 58.77,431.26 59.25,432.03 59.78,432.82 60.37,433.61 61.03,434.4 61.74,435.21 62.51,436.01 63.33,436.82 64.21,437.63 65.15,438.44 66.13,439.24 67.17,440.04 68.26,440.83 69.39,441.61" fill="none" stroke="#5cf05c" stroke-width="0.95" stroke-linejoin="round" stroke-linecap="round" />
<line x1="76.8" y1="419.1" x2="88.5" y2="423" stroke="#ff1010" stroke-width="1.0"/>
<ellipse cx="88.5" cy="423.5" rx="1.9" ry="5.6" transform="rotate(0 88.5 423.5)" fill="#4a6ef0" stroke="#2a4ae0" stroke-width="0.6"/>
<circle cx="88.5" cy="423.5" r="0.8" fill="#ff1010"/>
<line x1="25.2" y1="433.1" x2="62" y2="467.5" stroke="#3a3a3a" stroke-width="1"/>
<line x1="62" y1="467.5" x2="135.9" y2="451" stroke="#3a3a3a" stroke-width="1"/>
<line x1="25.2" y1="433.1" x2="25.2" y2="400.78" stroke="#666" stroke-width="1"/>
<line x1="25.2" y1="433.1" x2="27.2" y2="433.1" stroke="#333333" stroke-width="0.7"/>
<line x1="25.2" y1="416.94" x2="27.2" y2="416.94" stroke="#333333" stroke-width="0.7"/>
<line x1="25.2" y1="400.78" x2="27.2" y2="400.78" stroke="#333333" stroke-width="0.7"/>
<line x1="25.2" y1="433.1" x2="27.2" y2="433.1" stroke="#333333" stroke-width="0.7"/>
<text x="0" y="0" font-size="8.4" text-anchor="middle" dominant-baseline="central" fill="#1a1a1a" transform="translate(18.3 399.3) scale(1.0 1)" >4</text>
<text x="0" y="0" font-size="8.4" text-anchor="middle" dominant-baseline="central" fill="#1a1a1a" transform="translate(18.3 416.6) scale(1.0 1)" >2</text>
<text x="0" y="0" font-size="8.4" text-anchor="middle" dominant-baseline="central" fill="#1a1a1a" transform="translate(18.3 431.6) scale(1.0 1)" >0</text>
<text x="0" y="0" font-size="8.4" text-anchor="middle" dominant-baseline="central" fill="#1a1a1a" transform="translate(18.3 438.7) scale(1.0 1)" >5</text>
<text x="0" y="0" font-size="8.4" text-anchor="middle" dominant-baseline="central" fill="#1a1a1a" transform="translate(56.5 473) scale(1.0 1)" >0</text>
<text x="0" y="0" font-size="8.4" text-anchor="middle" dominant-baseline="central" fill="#1a1a1a" transform="translate(68.2 476.4) scale(1.0 1)" >-5</text>
<text x="0" y="0" font-size="8.4" text-anchor="middle" dominant-baseline="central" fill="#1a1a1a" transform="translate(103.8 466.7) scale(1.0 1)" >0</text>
<text x="0" y="0" font-size="8.4" text-anchor="middle" dominant-baseline="central" fill="#1a1a1a" transform="translate(141.5 457.5) scale(1.0 1)" >5</text>
<text x="0" y="0" font-size="10.08" text-anchor="middle" dominant-baseline="central" fill="#1a1a1a" transform="translate(9.7 417) rotate(-90) scale(0.875 1)" >Z(mm)</text>
<text x="0" y="0" font-size="10.08" text-anchor="middle" dominant-baseline="central" fill="#1a1a1a" transform="translate(23.8 475.6) scale(0.875 1)" >Y(mm)</text>
<text x="0" y="0" font-size="10.08" text-anchor="middle" dominant-baseline="central" fill="#1a1a1a" transform="translate(109.5 480.7) scale(0.875 1)" >X(mm)</text>
<text x="34.4" y="397" font-size="11.8" dominant-baseline="central" fill="#1a1a1a" textLength="89" lengthAdjust="spacingAndGlyphs"><tspan font-style="italic" font-size="13.5">α</tspan><tspan font-style="italic" font-size="5.5" dy="4.5">gd</tspan><tspan dy="-4.5"> =</tspan>146.07°,<tspan font-style="italic" font-size="13">γ</tspan><tspan font-style="italic" font-size="5.5" dy="4.5">gd</tspan><tspan dy="-4.5"> =</tspan>76.16°</text>
<text x="49" y="442.9" font-size="9.6" dominant-baseline="central" fill="#1a1a1a" textLength="63.6" lengthAdjust="spacingAndGlyphs">P(2.01, 3.48, 0.98)</text>
<line x1="302.85" y1="59.5" x2="302.85" y2="22.9" stroke="#d2d2d2" stroke-width="0.7"/>
<line x1="344.35" y1="54" x2="344.35" y2="17.4" stroke="#d2d2d2" stroke-width="0.7"/>
<line x1="385.85" y1="48.5" x2="385.85" y2="11.9" stroke="#d2d2d2" stroke-width="0.7"/>
<line x1="302.85" y1="59.5" x2="302.85" y2="22.9" stroke="#d2d2d2" stroke-width="0.7"/>
<line x1="385.85" y1="48.5" x2="385.85" y2="11.9" stroke="#d2d2d2" stroke-width="0.7"/>
<line x1="302.85" y1="59.5" x2="385.85" y2="48.5" stroke="#d2d2d2" stroke-width="0.7"/>
<line x1="302.85" y1="41.2" x2="385.85" y2="30.2" stroke="#d2d2d2" stroke-width="0.7"/>
<line x1="302.85" y1="22.9" x2="385.85" y2="11.9" stroke="#d2d2d2" stroke-width="0.7"/>
<line x1="302.85" y1="59.5" x2="385.85" y2="48.5" stroke="#d2d2d2" stroke-width="0.7"/>
<line x1="302.85" y1="22.9" x2="385.85" y2="11.9" stroke="#d2d2d2" stroke-width="0.7"/>
<line x1="410.6" y1="85" x2="410.6" y2="48.4" stroke="#d2d2d2" stroke-width="0.7"/>
<line x1="385.85" y1="48.5" x2="385.85" y2="11.9" stroke="#d2d2d2" stroke-width="0.7"/>
<line x1="410.6" y1="85" x2="410.6" y2="48.4" stroke="#d2d2d2" stroke-width="0.7"/>
<line x1="385.85" y1="48.5" x2="385.85" y2="11.9" stroke="#d2d2d2" stroke-width="0.7"/>
<line x1="410.6" y1="85" x2="385.85" y2="48.5" stroke="#d2d2d2" stroke-width="0.7"/>
<line x1="410.6" y1="66.7" x2="385.85" y2="30.2" stroke="#d2d2d2" stroke-width="0.7"/>
<line x1="410.6" y1="48.4" x2="385.85" y2="11.9" stroke="#d2d2d2" stroke-width="0.7"/>
<line x1="410.6" y1="85" x2="385.85" y2="48.5" stroke="#d2d2d2" stroke-width="0.7"/>
<line x1="410.6" y1="48.4" x2="385.85" y2="11.9" stroke="#d2d2d2" stroke-width="0.7"/>
<line x1="327.6" y1="96" x2="302.85" y2="59.5" stroke="#d2d2d2" stroke-width="0.7"/>
<line x1="369.1" y1="90.5" x2="344.35" y2="54" stroke="#d2d2d2" stroke-width="0.7"/>
<line x1="410.6" y1="85" x2="385.85" y2="48.5" stroke="#d2d2d2" stroke-width="0.7"/>
<line x1="327.6" y1="96" x2="410.6" y2="85" stroke="#d2d2d2" stroke-width="0.7"/>
<line x1="302.85" y1="59.5" x2="385.85" y2="48.5" stroke="#d2d2d2" stroke-width="0.7"/>
<polyline points="402.3,86.1 401.5,84.61 400.64,83.14 399.74,81.67 398.79,80.21 397.8,78.77 396.76,77.35 395.68,75.94 394.56,74.55 393.39,73.18 392.2,71.83 390.96,70.5 389.69,69.21 388.39,67.93 387.06,66.69 385.7,65.47 384.32,64.29 382.91,63.13 381.49,62.01 380.04,60.93 378.58,59.88 377.1,58.87 375.61,57.89 374.1,56.95 372.6,56.06 371.08,55.2 369.56,54.38 368.05,53.61 366.53,52.88 365.02,52.19 363.51,51.55 362.01,50.95 360.53,50.39 359.06,49.88 357.6,49.41 356.16,48.99 354.74,48.62 353.34,48.29 351.97,48.01 350.62,47.77 349.3,47.57 348.01,47.43 346.76,47.32 345.54,47.27 344.35,47.25 343.2,47.28 342.1,47.35 341.03,47.46 340.01,47.62 339.03,47.81 338.1,48.05 337.22,48.32 336.39,48.64 335.6,48.99 334.87,49.37 334.19,49.79 333.57,50.25 333,50.73 332.48,51.25 332.02,51.8 331.62,52.38 331.28,52.98 331,53.61 330.77,54.26 330.6,54.94 330.49,55.63 330.45,56.35 330.46,57.08 330.53,57.83 330.66,58.6 330.85,59.37 331.1,60.16 331.41,60.96 331.77,61.76 332.2,62.57 332.68,63.38 333.21,64.2 333.8,65.02 334.45,65.83 335.15,66.64 335.9,67.45" fill="none" stroke="#5cf05c" stroke-width="0.95" stroke-linejoin="round" stroke-linecap="round" />
<line x1="339.5" y1="46.5" x2="348.5" y2="47.8" stroke="#ff1010" stroke-width="1.0"/>
<ellipse cx="348.5" cy="47.8" rx="2.4" ry="5.8" transform="rotate(8 348.5 47.8)" fill="#4a6ef0" stroke="#2a4ae0" stroke-width="0.6"/>
<circle cx="348.5" cy="47.8" r="0.8" fill="#ff1010"/>
<line x1="302.85" y1="59.5" x2="327.6" y2="96" stroke="#3a3a3a" stroke-width="1"/>
<line x1="327.6" y1="96" x2="410.6" y2="85" stroke="#3a3a3a" stroke-width="1"/>
<line x1="302.85" y1="59.5" x2="302.85" y2="22.9" stroke="#666" stroke-width="1"/>
<line x1="302.85" y1="59.5" x2="304.85" y2="59.5" stroke="#333333" stroke-width="0.7"/>
<line x1="302.85" y1="41.2" x2="304.85" y2="41.2" stroke="#333333" stroke-width="0.7"/>
<line x1="302.85" y1="22.9" x2="304.85" y2="22.9" stroke="#333333" stroke-width="0.7"/>
<line x1="302.85" y1="59.5" x2="304.85" y2="59.5" stroke="#333333" stroke-width="0.7"/>
<text x="0" y="0" font-size="8.4" text-anchor="middle" dominant-baseline="central" fill="#1a1a1a" transform="translate(298.3 21.5) scale(1.0 1)" >4</text>
<text x="0" y="0" font-size="8.4" text-anchor="middle" dominant-baseline="central" fill="#1a1a1a" transform="translate(298.3 39.7) scale(1.0 1)" >2</text>
<text x="0" y="0" font-size="8.4" text-anchor="middle" dominant-baseline="central" fill="#1a1a1a" transform="translate(298.3 56) scale(1.0 1)" >0</text>
<text x="0" y="0" font-size="8.4" text-anchor="middle" dominant-baseline="central" fill="#1a1a1a" transform="translate(296.6 64.8) scale(1.0 1)" >5</text>
<text x="0" y="0" font-size="8.4" text-anchor="middle" dominant-baseline="central" fill="#1a1a1a" transform="translate(320.7 101) scale(1.0 1)" >0</text>
<text x="0" y="0" font-size="8.4" text-anchor="middle" dominant-baseline="central" fill="#1a1a1a" transform="translate(333.7 104.6) scale(1.0 1)" >-5</text>
<text x="0" y="0" font-size="8.4" text-anchor="middle" dominant-baseline="central" fill="#1a1a1a" transform="translate(372.7 98.7) scale(1.0 1)" >0</text>
<text x="0" y="0" font-size="8.4" text-anchor="middle" dominant-baseline="central" fill="#1a1a1a" transform="translate(413 94) scale(1.0 1)" >5</text>
<text x="0" y="0" font-size="10.08" text-anchor="middle" dominant-baseline="central" fill="#1a1a1a" transform="translate(288.8 42.4) rotate(-90) scale(0.875 1)" >Z(mm)</text>
<text x="0" y="0" font-size="10.08" text-anchor="middle" dominant-baseline="central" fill="#1a1a1a" transform="translate(292 103) scale(0.875 1)" >Y(mm)</text>
<text x="0" y="0" font-size="10.08" text-anchor="middle" dominant-baseline="central" fill="#1a1a1a" transform="translate(381.3 110.4) scale(0.875 1)" >X(mm)</text>
<text x="313.1" y="27.5" font-size="11.8" dominant-baseline="central" fill="#1a1a1a" textLength="87.2" lengthAdjust="spacingAndGlyphs"><tspan font-style="italic" font-size="13.5">α</tspan><tspan font-style="italic" font-size="5.5" dy="4.5">gd</tspan><tspan dy="-4.5"> =</tspan>175.46°,<tspan font-style="italic" font-size="13">γ</tspan><tspan font-style="italic" font-size="5.5" dy="4.5">gd</tspan><tspan dy="-4.5"> =</tspan>77.27°</text>
<text x="328.5" y="76.5" font-size="9.6" dominant-baseline="central" fill="#1a1a1a" textLength="66.5" lengthAdjust="spacingAndGlyphs">P(-0.00, 4.03, 1.49)</text>
<line x1="296.1" y1="190.4" x2="296.1" y2="150.4" stroke="#d2d2d2" stroke-width="0.7"/>
<line x1="337.65" y1="184.4" x2="337.65" y2="144.4" stroke="#d2d2d2" stroke-width="0.7"/>
<line x1="379.2" y1="178.4" x2="379.2" y2="138.4" stroke="#d2d2d2" stroke-width="0.7"/>
<line x1="296.1" y1="190.4" x2="296.1" y2="150.4" stroke="#d2d2d2" stroke-width="0.7"/>
<line x1="379.2" y1="178.4" x2="379.2" y2="138.4" stroke="#d2d2d2" stroke-width="0.7"/>
<line x1="296.1" y1="190.4" x2="379.2" y2="178.4" stroke="#d2d2d2" stroke-width="0.7"/>
<line x1="296.1" y1="170.4" x2="379.2" y2="158.4" stroke="#d2d2d2" stroke-width="0.7"/>
<line x1="296.1" y1="150.4" x2="379.2" y2="138.4" stroke="#d2d2d2" stroke-width="0.7"/>
<line x1="296.1" y1="190.4" x2="379.2" y2="178.4" stroke="#d2d2d2" stroke-width="0.7"/>
<line x1="296.1" y1="150.4" x2="379.2" y2="138.4" stroke="#d2d2d2" stroke-width="0.7"/>
<line x1="409.6" y1="212" x2="409.6" y2="172" stroke="#d2d2d2" stroke-width="0.7"/>
<line x1="394.4" y1="195.2" x2="394.4" y2="155.2" stroke="#d2d2d2" stroke-width="0.7"/>
<line x1="379.2" y1="178.4" x2="379.2" y2="138.4" stroke="#d2d2d2" stroke-width="0.7"/>
<line x1="409.6" y1="212" x2="409.6" y2="172" stroke="#d2d2d2" stroke-width="0.7"/>
<line x1="379.2" y1="178.4" x2="379.2" y2="138.4" stroke="#d2d2d2" stroke-width="0.7"/>
<line x1="409.6" y1="212" x2="379.2" y2="178.4" stroke="#d2d2d2" stroke-width="0.7"/>
<line x1="409.6" y1="192" x2="379.2" y2="158.4" stroke="#d2d2d2" stroke-width="0.7"/>
<line x1="409.6" y1="172" x2="379.2" y2="138.4" stroke="#d2d2d2" stroke-width="0.7"/>
<line x1="409.6" y1="212" x2="379.2" y2="178.4" stroke="#d2d2d2" stroke-width="0.7"/>
<line x1="409.6" y1="172" x2="379.2" y2="138.4" stroke="#d2d2d2" stroke-width="0.7"/>
<line x1="326.5" y1="224" x2="296.1" y2="190.4" stroke="#d2d2d2" stroke-width="0.7"/>
<line x1="368.05" y1="218" x2="337.65" y2="184.4" stroke="#d2d2d2" stroke-width="0.7"/>
<line x1="409.6" y1="212" x2="379.2" y2="178.4" stroke="#d2d2d2" stroke-width="0.7"/>
<line x1="326.5" y1="224" x2="409.6" y2="212" stroke="#d2d2d2" stroke-width="0.7"/>
<line x1="311.3" y1="207.2" x2="394.4" y2="195.2" stroke="#d2d2d2" stroke-width="0.7"/>
<line x1="296.1" y1="190.4" x2="379.2" y2="178.4" stroke="#d2d2d2" stroke-width="0.7"/>
<polyline points="401.29,213.2 400.07,211.51 398.8,209.83 397.49,208.16 396.13,206.5 394.72,204.86 393.27,203.24 391.79,201.63 390.27,200.05 388.71,198.49 387.13,196.96 385.51,195.45 383.87,193.97 382.2,192.52 380.51,191.1 378.8,189.72 377.07,188.37 375.33,187.05 373.58,185.78 371.82,184.54 370.06,183.35 368.29,182.19 366.52,181.08 364.76,180.02 362.99,179 361.24,178.02 359.5,177.09 357.77,176.21 356.05,175.38 354.36,174.6 352.68,173.87 351.03,173.19 349.41,172.56 347.81,171.98 346.25,171.46 344.72,170.98 343.22,170.56 341.77,170.19 340.35,169.88 338.98,169.61 337.65,169.4 336.37,169.24 335.14,169.13 333.95,169.07 332.82,169.06 331.75,169.11 330.73,169.2 329.77,169.34 328.87,169.53 328.02,169.76 327.24,170.04 326.53,170.37 325.87,170.74 325.28,171.15 324.76,171.61 324.31,172.1 323.92,172.64 323.6,173.21 323.35,173.82 323.16,174.46 323.05,175.14 323.01,175.84 323.03,176.58 323.13,177.34 323.29,178.13 323.52,178.95 323.82,179.79 324.19,180.65 324.63,181.52 325.14,182.42 325.71,183.33 326.34,184.25 327.04,185.18 327.81,186.12 328.63,187.07 329.52,188.03 330.46,188.98 331.47,189.94 332.53,190.9 333.64,191.85 334.81,192.8" fill="none" stroke="#5cf05c" stroke-width="0.95" stroke-linejoin="round" stroke-linecap="round" />
<line x1="321.5" y1="173.8" x2="326.4" y2="171.2" stroke="#ff1010" stroke-width="1.0"/>
<ellipse cx="326.4" cy="171.2" rx="5.2" ry="7.6" transform="rotate(-28 326.4 171.2)" fill="#4a6ef0" stroke="#2a4ae0" stroke-width="0.6"/>
<circle cx="326.4" cy="171.2" r="0.8" fill="#ff1010"/>
<line x1="321.5" y1="173.8" x2="326.4" y2="171.2" stroke="#ff1010" stroke-width="1.2"/>
<line x1="296.1" y1="190.4" x2="326.5" y2="224" stroke="#3a3a3a" stroke-width="1"/>
<line x1="326.5" y1="224" x2="409.6" y2="212" stroke="#3a3a3a" stroke-width="1"/>
<line x1="296.1" y1="190.4" x2="296.1" y2="150.4" stroke="#666" stroke-width="1"/>
<line x1="296.1" y1="190.4" x2="298.1" y2="190.4" stroke="#333333" stroke-width="0.7"/>
<line x1="296.1" y1="170.4" x2="298.1" y2="170.4" stroke="#333333" stroke-width="0.7"/>
<line x1="296.1" y1="150.4" x2="298.1" y2="150.4" stroke="#333333" stroke-width="0.7"/>
<line x1="296.1" y1="190.4" x2="298.1" y2="190.4" stroke="#333333" stroke-width="0.7"/>
<text x="0" y="0" font-size="8.4" text-anchor="middle" dominant-baseline="central" fill="#1a1a1a" transform="translate(291.7 147.8) scale(1.0 1)" >4</text>
<text x="0" y="0" font-size="8.4" text-anchor="middle" dominant-baseline="central" fill="#1a1a1a" transform="translate(291.7 168.7) scale(1.0 1)" >2</text>
<text x="0" y="0" font-size="8.4" text-anchor="middle" dominant-baseline="central" fill="#1a1a1a" transform="translate(291.7 188.4) scale(1.0 1)" >0</text>
<text x="0" y="0" font-size="8.4" text-anchor="middle" dominant-baseline="central" fill="#1a1a1a" transform="translate(289.5 196.2) scale(1.0 1)" >4</text>
<text x="0" y="0" font-size="8.4" text-anchor="middle" dominant-baseline="central" fill="#1a1a1a" transform="translate(305.3 213.4) scale(1.0 1)" >2</text>
<text x="0" y="0" font-size="8.4" text-anchor="middle" dominant-baseline="central" fill="#1a1a1a" transform="translate(320.4 229.2) scale(1.0 1)" >0</text>
<text x="0" y="0" font-size="8.4" text-anchor="middle" dominant-baseline="central" fill="#1a1a1a" transform="translate(334.4 231.9) scale(1.0 1)" >-5</text>
<text x="0" y="0" font-size="8.4" text-anchor="middle" dominant-baseline="central" fill="#1a1a1a" transform="translate(374 225.3) scale(1.0 1)" >0</text>
<text x="0" y="0" font-size="8.4" text-anchor="middle" dominant-baseline="central" fill="#1a1a1a" transform="translate(414.8 218.7) scale(1.0 1)" >5</text>
<text x="0" y="0" font-size="10.08" text-anchor="middle" dominant-baseline="central" fill="#1a1a1a" transform="translate(282.3 170.7) rotate(-90) scale(0.875 1)" >Z(mm)</text>
<text x="0" y="0" font-size="10.08" text-anchor="middle" dominant-baseline="central" fill="#1a1a1a" transform="translate(289.5 233.2) scale(0.875 1)" >Y(mm)</text>
<text x="0" y="0" font-size="10.08" text-anchor="middle" dominant-baseline="central" fill="#1a1a1a" transform="translate(381 238.5) scale(0.875 1)" >X(mm)</text>
<text x="302.7" y="155.6" font-size="11.8" dominant-baseline="central" fill="#1a1a1a" textLength="92.3" lengthAdjust="spacingAndGlyphs"><tspan font-style="italic" font-size="13.5">α</tspan><tspan font-style="italic" font-size="5.5" dy="4.5">gd</tspan><tspan dy="-4.5"> =</tspan>206.00°,<tspan font-style="italic" font-size="13">γ</tspan><tspan font-style="italic" font-size="5.5" dy="4.5">gd</tspan><tspan dy="-4.5"> =</tspan>77.24°</text>
<text x="317.2" y="196.2" font-size="9.6" dominant-baseline="central" fill="#1a1a1a" textLength="68.8" lengthAdjust="spacingAndGlyphs">P(-1.99, 3.45, 2.00)</text>
<line x1="292.6" y1="326.6" x2="292.6" y2="291.4" stroke="#d2d2d2" stroke-width="0.7"/>
<line x1="320.95" y1="314.45" x2="320.95" y2="279.25" stroke="#d2d2d2" stroke-width="0.7"/>
<line x1="349.3" y1="302.3" x2="349.3" y2="267.1" stroke="#d2d2d2" stroke-width="0.7"/>
<line x1="292.6" y1="326.6" x2="292.6" y2="291.4" stroke="#d2d2d2" stroke-width="0.7"/>
<line x1="349.3" y1="302.3" x2="349.3" y2="267.1" stroke="#d2d2d2" stroke-width="0.7"/>
<line x1="292.6" y1="326.6" x2="349.3" y2="302.3" stroke="#d2d2d2" stroke-width="0.7"/>
<line x1="292.6" y1="309" x2="349.3" y2="284.7" stroke="#d2d2d2" stroke-width="0.7"/>
<line x1="292.6" y1="291.4" x2="349.3" y2="267.1" stroke="#d2d2d2" stroke-width="0.7"/>
<line x1="292.6" y1="326.6" x2="349.3" y2="302.3" stroke="#d2d2d2" stroke-width="0.7"/>
<line x1="292.6" y1="291.4" x2="349.3" y2="267.1" stroke="#d2d2d2" stroke-width="0.7"/>
<line x1="405.7" y1="327.7" x2="405.7" y2="292.5" stroke="#d2d2d2" stroke-width="0.7"/>
<line x1="377.5" y1="315" x2="377.5" y2="279.8" stroke="#d2d2d2" stroke-width="0.7"/>
<line x1="349.3" y1="302.3" x2="349.3" y2="267.1" stroke="#d2d2d2" stroke-width="0.7"/>
<line x1="405.7" y1="327.7" x2="405.7" y2="292.5" stroke="#d2d2d2" stroke-width="0.7"/>
<line x1="349.3" y1="302.3" x2="349.3" y2="267.1" stroke="#d2d2d2" stroke-width="0.7"/>
<line x1="405.7" y1="327.7" x2="349.3" y2="302.3" stroke="#d2d2d2" stroke-width="0.7"/>
<line x1="405.7" y1="310.1" x2="349.3" y2="284.7" stroke="#d2d2d2" stroke-width="0.7"/>
<line x1="405.7" y1="292.5" x2="349.3" y2="267.1" stroke="#d2d2d2" stroke-width="0.7"/>
<line x1="405.7" y1="327.7" x2="349.3" y2="302.3" stroke="#d2d2d2" stroke-width="0.7"/>
<line x1="405.7" y1="292.5" x2="349.3" y2="267.1" stroke="#d2d2d2" stroke-width="0.7"/>
<line x1="349" y1="352" x2="292.6" y2="326.6" stroke="#d2d2d2" stroke-width="0.7"/>
<line x1="377.35" y1="339.85" x2="320.95" y2="314.45" stroke="#d2d2d2" stroke-width="0.7"/>
<line x1="405.7" y1="327.7" x2="349.3" y2="302.3" stroke="#d2d2d2" stroke-width="0.7"/>
<line x1="349" y1="352" x2="405.7" y2="327.7" stroke="#d2d2d2" stroke-width="0.7"/>
<line x1="320.8" y1="339.3" x2="377.5" y2="315" stroke="#d2d2d2" stroke-width="0.7"/>
<line x1="292.6" y1="326.6" x2="349.3" y2="302.3" stroke="#d2d2d2" stroke-width="0.7"/>
<polyline points="400.03,330.13 397.8,328.81 395.53,327.51 393.24,326.22 390.93,324.96 388.59,323.71 386.24,322.49 383.87,321.29 381.49,320.12 379.11,318.97 376.72,317.85 374.33,316.76 371.95,315.7 369.58,314.67 367.22,313.67 364.87,312.71 362.55,311.78 360.24,310.88 357.97,310.02 355.72,309.2 353.51,308.42 351.33,307.67 349.19,306.96 347.1,306.3 345.05,305.67 343.06,305.08 341.11,304.53 339.22,304.03 337.39,303.57 335.63,303.14 333.92,302.76 332.29,302.43 330.72,302.13 329.22,301.88 327.8,301.66 326.46,301.49 325.19,301.36 324.01,301.27 322.9,301.23 321.88,301.22 320.95,301.25 320.1,301.32 319.34,301.43 318.68,301.58 318.1,301.76 317.61,301.98 317.21,302.24 316.91,302.53 316.7,302.86 316.59,303.21 316.56,303.6 316.64,304.02 316.8,304.47 317.06,304.95 317.41,305.45 317.85,305.98 318.39,306.53 319.02,307.11 319.73,307.71 320.54,308.33 321.43,308.96 322.41,309.62 323.48,310.29 324.62,310.97 325.85,311.66 327.16,312.37 328.54,313.09 330,313.81 331.54,314.54 333.14,315.27 334.81,316.01 336.55,316.75 338.35,317.49 340.21,318.22 342.13,318.95 344.1,319.68 346.13,320.4 348.2,321.11 350.31,321.81 352.47,322.5 354.67,323.17" fill="none" stroke="#5cf05c" stroke-width="0.95" stroke-linejoin="round" stroke-linecap="round" />
<line x1="329.1" y1="313.3" x2="335" y2="316.5" stroke="#ff1010" stroke-width="1.0"/>
<ellipse cx="329.1" cy="313.3" rx="6.2" ry="4.4" transform="rotate(25 329.1 313.3)" fill="#4a6ef0" stroke="#2a4ae0" stroke-width="0.6"/>
<circle cx="329.1" cy="313.3" r="0.8" fill="#ff1010"/>
<line x1="329.1" y1="313.3" x2="335" y2="316.5" stroke="#ff1010" stroke-width="1.2"/>
<line x1="292.6" y1="326.6" x2="349" y2="352" stroke="#3a3a3a" stroke-width="1"/>
<line x1="349" y1="352" x2="405.7" y2="327.7" stroke="#3a3a3a" stroke-width="1"/>
<line x1="292.6" y1="326.6" x2="292.6" y2="291.4" stroke="#666" stroke-width="1"/>
<line x1="292.6" y1="326.6" x2="294.6" y2="326.6" stroke="#333333" stroke-width="0.7"/>
<line x1="292.6" y1="309" x2="294.6" y2="309" stroke="#333333" stroke-width="0.7"/>
<line x1="292.6" y1="291.4" x2="294.6" y2="291.4" stroke="#333333" stroke-width="0.7"/>
<line x1="292.6" y1="326.6" x2="294.6" y2="326.6" stroke="#333333" stroke-width="0.7"/>
<text x="0" y="0" font-size="7.5" text-anchor="middle" dominant-baseline="central" fill="#1a1a1a" transform="translate(287.1 291.5) scale(1.0 1)" >4</text>
<text x="0" y="0" font-size="7.5" text-anchor="middle" dominant-baseline="central" fill="#1a1a1a" transform="translate(287.1 309) scale(1.0 1)" >2</text>
<text x="0" y="0" font-size="7.5" text-anchor="middle" dominant-baseline="central" fill="#1a1a1a" transform="translate(287.1 326) scale(1.0 1)" >0</text>
<text x="0" y="0" font-size="8.4" text-anchor="middle" dominant-baseline="central" fill="#1a1a1a" transform="translate(286.1 333.9) scale(1.0 1)" >4</text>
<text x="0" y="0" font-size="8.4" text-anchor="middle" dominant-baseline="central" fill="#1a1a1a" transform="translate(314.6 346.3) scale(1.0 1)" >2</text>
<text x="0" y="0" font-size="8.4" text-anchor="middle" dominant-baseline="central" fill="#1a1a1a" transform="translate(343.1 358.2) scale(1.0 1)" >0</text>
<text x="0" y="0" font-size="8.4" text-anchor="middle" dominant-baseline="central" fill="#1a1a1a" transform="translate(354.2 358.2) scale(1.0 1)" >-5</text>
<text x="0" y="0" font-size="8.4" text-anchor="middle" dominant-baseline="central" fill="#1a1a1a" transform="translate(380.5 346.3) scale(1.0 1)" >0</text>
<text x="0" y="0" font-size="8.4" text-anchor="middle" dominant-baseline="central" fill="#1a1a1a" transform="translate(408.2 332.3) scale(1.0 1)" >5</text>
<text x="0" y="0" font-size="9.41" text-anchor="middle" dominant-baseline="central" fill="#1a1a1a" transform="translate(280.1 309.4) rotate(-90) scale(0.875 1)" >Z(mm)</text>
<text x="0" y="0" font-size="10.08" text-anchor="middle" dominant-baseline="central" fill="#1a1a1a" transform="translate(306 362.1) scale(0.875 1)" >Y(mm)</text>
<text x="0" y="0" font-size="10.08" text-anchor="middle" dominant-baseline="central" fill="#1a1a1a" transform="translate(393 362.1) scale(0.875 1)" >X(mm)</text>
<text x="302.7" y="284.9" font-size="11.8" dominant-baseline="central" fill="#1a1a1a" textLength="93.1" lengthAdjust="spacingAndGlyphs"><tspan font-style="italic" font-size="13.5">α</tspan><tspan font-style="italic" font-size="5.5" dy="4.5">gd</tspan><tspan dy="-4.5"> =</tspan>235.88°,<tspan font-style="italic" font-size="13">γ</tspan><tspan font-style="italic" font-size="5.5" dy="4.5">gd</tspan><tspan dy="-4.5"> =</tspan>76.86°</text>
<text x="315" y="328.3" font-size="9.6" dominant-baseline="central" fill="#1a1a1a" textLength="67" lengthAdjust="spacingAndGlyphs">P(-3.46, 1.99, 2.49)</text>
<line x1="288" y1="456" x2="288" y2="426.4" stroke="#d2d2d2" stroke-width="0.7"/>
<line x1="308.7" y1="438.3" x2="308.7" y2="408.7" stroke="#d2d2d2" stroke-width="0.7"/>
<line x1="329.4" y1="420.6" x2="329.4" y2="391" stroke="#d2d2d2" stroke-width="0.7"/>
<line x1="288" y1="456" x2="288" y2="426.4" stroke="#d2d2d2" stroke-width="0.7"/>
<line x1="329.4" y1="420.6" x2="329.4" y2="391" stroke="#d2d2d2" stroke-width="0.7"/>
<line x1="288" y1="456" x2="329.4" y2="420.6" stroke="#d2d2d2" stroke-width="0.7"/>
<line x1="288" y1="441.2" x2="329.4" y2="405.8" stroke="#d2d2d2" stroke-width="0.7"/>
<line x1="288" y1="426.4" x2="329.4" y2="391" stroke="#d2d2d2" stroke-width="0.7"/>
<line x1="288" y1="456" x2="329.4" y2="420.6" stroke="#d2d2d2" stroke-width="0.7"/>
<line x1="288" y1="426.4" x2="329.4" y2="391" stroke="#d2d2d2" stroke-width="0.7"/>
<line x1="398" y1="440.6" x2="398" y2="411" stroke="#d2d2d2" stroke-width="0.7"/>
<line x1="363.7" y1="430.6" x2="363.7" y2="401" stroke="#d2d2d2" stroke-width="0.7"/>
<line x1="329.4" y1="420.6" x2="329.4" y2="391" stroke="#d2d2d2" stroke-width="0.7"/>
<line x1="398" y1="440.6" x2="398" y2="411" stroke="#d2d2d2" stroke-width="0.7"/>
<line x1="329.4" y1="420.6" x2="329.4" y2="391" stroke="#d2d2d2" stroke-width="0.7"/>
<line x1="398" y1="440.6" x2="329.4" y2="420.6" stroke="#d2d2d2" stroke-width="0.7"/>
<line x1="398" y1="425.8" x2="329.4" y2="405.8" stroke="#d2d2d2" stroke-width="0.7"/>
<line x1="398" y1="411" x2="329.4" y2="391" stroke="#d2d2d2" stroke-width="0.7"/>
<line x1="398" y1="440.6" x2="329.4" y2="420.6" stroke="#d2d2d2" stroke-width="0.7"/>
<line x1="398" y1="411" x2="329.4" y2="391" stroke="#d2d2d2" stroke-width="0.7"/>
<line x1="356.6" y1="476" x2="288" y2="456" stroke="#d2d2d2" stroke-width="0.7"/>
<line x1="377.3" y1="458.3" x2="308.7" y2="438.3" stroke="#d2d2d2" stroke-width="0.7"/>
<line x1="398" y1="440.6" x2="329.4" y2="420.6" stroke="#d2d2d2" stroke-width="0.7"/>
<line x1="356.6" y1="476" x2="398" y2="440.6" stroke="#d2d2d2" stroke-width="0.7"/>
<line x1="322.3" y1="466" x2="363.7" y2="430.6" stroke="#d2d2d2" stroke-width="0.7"/>
<line x1="288" y1="456" x2="329.4" y2="420.6" stroke="#d2d2d2" stroke-width="0.7"/>
<polyline points="359.56,435.14 358.47,434.56 357.36,434 356.22,433.47 355.06,432.95 353.89,432.46 352.7,432 351.49,431.56 350.27,431.14 349.04,430.75 347.8,430.38 346.55,430.04 345.3,429.72 344.04,429.43 342.78,429.16 341.52,428.92 340.27,428.7 339.02,428.51 337.77,428.34 336.53,428.2 335.31,428.08 334.09,427.99 332.89,427.92 331.7,427.87 330.53,427.84 329.38,427.84 328.26,427.87 327.15,427.91 326.07,427.97 325.01,428.06 323.99,428.17 322.99,428.29 322.02,428.44 321.09,428.6 320.18,428.78 319.32,428.98 318.49,429.19 317.7,429.42 316.94,429.67 316.23,429.93 315.56,430.2 314.93,430.48 314.35,430.78 313.8,431.09 313.31,431.4 312.86,431.73 312.45,432.06 312.1,432.4 311.79,432.75 311.52,433.1 311.31,433.45 311.15,433.81 311.03,434.17 310.97,434.53 310.95,434.89 310.98,435.25 311.07,435.61 311.2,435.97 311.38,436.32 311.61,436.66 311.89,437.01 312.21,437.34 312.59,437.67 313.01,437.98 313.47,438.29 313.99,438.59 314.54,438.88 315.14,439.15 315.79,439.41 316.47,439.66 317.2,439.9 317.97,440.11 318.77,440.31 319.61,440.5 320.49,440.67 321.4,440.81 322.35,440.94 323.33,441.05 324.34,441.14 325.38,441.21 326.44,441.26" fill="none" stroke="#5cf05c" stroke-width="0.95" stroke-linejoin="round" stroke-linecap="round" />
<line x1="325.8" y1="440.6" x2="332.9" y2="440.6" stroke="#ff1010" stroke-width="1.0"/>
<ellipse cx="325.8" cy="440.6" rx="2.2" ry="4.8" transform="rotate(0 325.8 440.6)" fill="#4a6ef0" stroke="#2a4ae0" stroke-width="0.6"/>
<circle cx="325.8" cy="440.6" r="0.8" fill="#ff1010"/>
<line x1="288" y1="456" x2="356.6" y2="476" stroke="#3a3a3a" stroke-width="1"/>
<line x1="356.6" y1="476" x2="398" y2="440.6" stroke="#3a3a3a" stroke-width="1"/>
<line x1="288" y1="456" x2="288" y2="426.4" stroke="#666" stroke-width="1"/>
<line x1="288" y1="456" x2="290" y2="456" stroke="#333333" stroke-width="0.7"/>
<line x1="288" y1="441.2" x2="290" y2="441.2" stroke="#333333" stroke-width="0.7"/>
<line x1="288" y1="426.4" x2="290" y2="426.4" stroke="#333333" stroke-width="0.7"/>
<line x1="288" y1="456" x2="290" y2="456" stroke="#333333" stroke-width="0.7"/>
<text x="0" y="0" font-size="8.4" text-anchor="middle" dominant-baseline="central" fill="#1a1a1a" transform="translate(280.9 416.7) scale(1.0 1)" >4</text>
<text x="0" y="0" font-size="8.4" text-anchor="middle" dominant-baseline="central" fill="#1a1a1a" transform="translate(280.9 431) scale(1.0 1)" >2</text>
<text x="0" y="0" font-size="8.4" text-anchor="middle" dominant-baseline="central" fill="#1a1a1a" transform="translate(280.9 446) scale(1.0 1)" >0</text>
<text x="0" y="0" font-size="8.4" text-anchor="middle" dominant-baseline="central" fill="#1a1a1a" transform="translate(280.9 455) scale(1.0 1)" >5</text>
<text x="0" y="0" font-size="8.4" text-anchor="middle" dominant-baseline="central" fill="#1a1a1a" transform="translate(317.6 464.9) scale(1.0 1)" >0</text>
<text x="0" y="0" font-size="8.4" text-anchor="middle" dominant-baseline="central" fill="#1a1a1a" transform="translate(350.7 474.4) scale(1.0 1)" >-5</text>
<text x="0" y="0" font-size="8.4" text-anchor="middle" dominant-baseline="central" fill="#1a1a1a" transform="translate(363.7 472.5) scale(1.0 1)" >-5</text>
<text x="0" y="0" font-size="8.4" text-anchor="middle" dominant-baseline="central" fill="#1a1a1a" transform="translate(382.6 455.9) scale(1.0 1)" >0</text>
<text x="0" y="0" font-size="8.4" text-anchor="middle" dominant-baseline="central" fill="#1a1a1a" transform="translate(402.7 438.2) scale(1.0 1)" >5</text>
<text x="0" y="0" font-size="10.08" text-anchor="middle" dominant-baseline="central" fill="#1a1a1a" transform="translate(291.5 405.9) scale(0.875 1)" >Z(mm)</text>
<text x="0" y="0" font-size="10.08" text-anchor="middle" dominant-baseline="central" fill="#1a1a1a" transform="translate(308 478.5) scale(0.875 1)" >Y(mm)</text>
<text x="0" y="0" font-size="10.08" text-anchor="middle" dominant-baseline="central" fill="#1a1a1a" transform="translate(398.3 473.8) scale(0.875 1)" >X(mm)</text>
<text x="304" y="420.7" font-size="11.8" dominant-baseline="central" fill="#1a1a1a" textLength="95" lengthAdjust="spacingAndGlyphs"><tspan font-style="italic" font-size="13.5">α</tspan><tspan font-style="italic" font-size="5.5" dy="4.5">gd</tspan><tspan dy="-4.5"> =</tspan>265.55°,<tspan font-style="italic" font-size="13">γ</tspan><tspan font-style="italic" font-size="5.5" dy="4.5">gd</tspan><tspan dy="-4.5"> =</tspan>74.89°</text>
<text x="304.5" y="453.4" font-size="9.6" dominant-baseline="central" fill="#1a1a1a" textLength="68.5" lengthAdjust="spacingAndGlyphs">P(-3.98, 0.01, 3.01)</text>
<rect x="161.2" y="143.9" width="111.2" height="78.1" fill="#fff" stroke="none"/>
<polyline points="161.2,143.9 162.13,143.95 163.05,144.11 163.98,144.38 164.91,144.75 165.83,145.23 166.76,145.81 167.69,146.49 168.61,147.28 169.54,148.16 170.47,149.13 171.39,150.2 172.32,151.36 173.25,152.6 174.17,153.93 175.1,155.34 176.03,156.82 176.95,158.38 177.88,160 178.81,161.68 179.73,163.42 180.66,165.22 181.59,167.07 182.51,168.96 183.44,170.88 184.37,172.84 185.29,174.83 186.22,176.84 187.15,178.87 188.07,180.91 189,182.95 189.93,184.99 190.85,187.03 191.78,189.06 192.71,191.07 193.63,193.06 194.56,195.02 195.49,196.94 196.41,198.83 197.34,200.68 198.27,202.47 199.19,204.22 200.12,205.9 201.05,207.52 201.97,209.08 202.9,210.56 203.83,211.97 204.75,213.3 205.68,214.54 206.61,215.7 207.53,216.77 208.46,217.74 209.39,218.62 210.31,219.41 211.24,220.09 212.17,220.67 213.09,221.15 214.02,221.52 214.95,221.79 215.87,221.95 216.8,222 217.73,221.95 218.65,221.79 219.58,221.52 220.51,221.15 221.43,220.67 222.36,220.09 223.29,219.41 224.21,218.62 225.14,217.74 226.07,216.77 226.99,215.7 227.92,214.54 228.85,213.3 229.77,211.97 230.7,210.56 231.63,209.08 232.55,207.52 233.48,205.9 234.41,204.22 235.33,202.47 236.26,200.68 237.19,198.83 238.11,196.94 239.04,195.02 239.97,193.06 240.89,191.07 241.82,189.06 242.75,187.03 243.67,184.99 244.6,182.95 245.53,180.91 246.45,178.87 247.38,176.84 248.31,174.83 249.23,172.84 250.16,170.88 251.09,168.96 252.01,167.07 252.94,165.22 253.87,163.42 254.79,161.68 255.72,160 256.65,158.38 257.57,156.82 258.5,155.34 259.43,153.93 260.35,152.6 261.28,151.36 262.21,150.2 263.13,149.13 264.06,148.16 264.99,147.28 265.91,146.49 266.84,145.81 267.77,145.23 268.69,144.75 269.62,144.38 270.55,144.11 271.47,143.95 272.4,143.9" fill="none" stroke="#2a2aff" stroke-width="1.3" stroke-linejoin="round" stroke-linecap="round" />
<polyline points="161.2,181.27 162.13,180.78 163.05,180.29 163.98,179.81 164.91,179.34 165.83,178.88 166.76,178.43 167.69,177.99 168.61,177.57 169.54,177.16 170.47,176.76 171.39,176.39 172.32,176.03 173.25,175.69 174.17,175.37 175.1,175.07 176.03,174.8 176.95,174.54 177.88,174.31 178.81,174.1 179.73,173.92 180.66,173.76 181.59,173.63 182.51,173.52 183.44,173.44 184.37,173.38 185.29,173.35 186.22,173.35 187.15,173.37 188.07,173.42 189,173.49 189.93,173.59 190.85,173.72 191.78,173.87 192.71,174.05 193.63,174.25 194.56,174.47 195.49,174.72 196.41,174.99 197.34,175.29 198.27,175.6 199.19,175.93 200.12,176.29 201.05,176.66 201.97,177.05 202.9,177.45 203.83,177.87 204.75,178.3 205.68,178.75 206.61,179.21 207.53,179.68 208.46,180.15 209.39,180.64 210.31,181.13 211.24,181.63 212.17,182.13 213.09,182.63 214.02,183.13 214.95,183.63 215.87,184.13 216.8,184.63 217.73,185.12 218.65,185.61 219.58,186.09 220.51,186.56 221.43,187.02 222.36,187.47 223.29,187.91 224.21,188.33 225.14,188.74 226.07,189.14 226.99,189.51 227.92,189.87 228.85,190.21 229.77,190.53 230.7,190.83 231.63,191.1 232.55,191.36 233.48,191.59 234.41,191.8 235.33,191.98 236.26,192.14 237.19,192.27 238.11,192.38 239.04,192.46 239.97,192.52 240.89,192.55 241.82,192.55 242.75,192.53 243.67,192.48 244.6,192.41 245.53,192.31 246.45,192.18 247.38,192.03 248.31,191.85 249.23,191.65 250.16,191.43 251.09,191.18 252.01,190.91 252.94,190.61 253.87,190.3 254.79,189.97 255.72,189.61 256.65,189.24 257.57,188.85 258.5,188.45 259.43,188.03 260.35,187.6 261.28,187.15 262.21,186.69 263.13,186.22 264.06,185.75 264.99,185.26 265.91,184.77 266.84,184.27 267.77,183.77 268.69,183.27 269.62,182.77 270.55,182.27 271.47,181.77 272.4,181.27" fill="none" stroke="#ff1a1a" stroke-width="1.3" stroke-linejoin="round" stroke-linecap="round" />
<polyline points="161.2,182.95 162.13,184.99 163.05,187.03 163.98,189.06 164.91,191.07 165.83,193.06 166.76,195.02 167.69,196.94 168.61,198.83 169.54,200.68 170.47,202.47 171.39,204.22 172.32,205.9 173.25,207.52 174.17,209.08 175.1,210.56 176.03,211.97 176.95,213.3 177.88,214.54 178.81,215.7 179.73,216.77 180.66,217.74 181.59,218.62 182.51,219.41 183.44,220.09 184.37,220.67 185.29,221.15 186.22,221.52 187.15,221.79 188.07,221.95 189,222 189.93,221.95 190.85,221.79 191.78,221.52 192.71,221.15 193.63,220.67 194.56,220.09 195.49,219.41 196.41,218.62 197.34,217.74 198.27,216.77 199.19,215.7 200.12,214.54 201.05,213.3 201.97,211.97 202.9,210.56 203.83,209.08 204.75,207.52 205.68,205.9 206.61,204.22 207.53,202.47 208.46,200.68 209.39,198.83 210.31,196.94 211.24,195.02 212.17,193.06 213.09,191.07 214.02,189.06 214.95,187.03 215.87,184.99 216.8,182.95 217.73,180.91 218.65,178.87 219.58,176.84 220.51,174.83 221.43,172.84 222.36,170.88 223.29,168.96 224.21,167.07 225.14,165.22 226.07,163.42 226.99,161.68 227.92,160 228.85,158.38 229.77,156.82 230.7,155.34 231.63,153.93 232.55,152.6 233.48,151.36 234.41,150.2 235.33,149.13 236.26,148.16 237.19,147.28 238.11,146.49 239.04,145.81 239.97,145.23 240.89,144.75 241.82,144.38 242.75,144.11 243.67,143.95 244.6,143.9 245.53,143.95 246.45,144.11 247.38,144.38 248.31,144.75 249.23,145.23 250.16,145.81 251.09,146.49 252.01,147.28 252.94,148.16 253.87,149.13 254.79,150.2 255.72,151.36 256.65,152.6 257.57,153.93 258.5,155.34 259.43,156.82 260.35,158.38 261.28,160 262.21,161.68 263.13,163.42 264.06,165.22 264.99,167.07 265.91,168.96 266.84,170.88 267.77,172.84 268.69,174.83 269.62,176.84 270.55,178.87 271.47,180.91 272.4,182.95" fill="none" stroke="#333333" stroke-width="1.3" stroke-linejoin="round" stroke-linecap="round" />
<rect x="161.2" y="143.9" width="111.2" height="78.1" fill="none" stroke="#4d4d4d" stroke-width="1"/>
<line x1="216.8" y1="222" x2="216.8" y2="220" stroke="#333333" stroke-width="0.8"/>
<line x1="216.8" y1="143.9" x2="216.8" y2="145.9" stroke="#333333" stroke-width="0.8"/>
<line x1="161.2" y1="182.95" x2="163.2" y2="182.95" stroke="#333333" stroke-width="0.8"/>
<line x1="272.4" y1="182.95" x2="270.4" y2="182.95" stroke="#333333" stroke-width="0.8"/>
<text x="0" y="0" font-size="10.26" text-anchor="end" dominant-baseline="central" fill="#1a1a1a" transform="translate(158.7 144.7) scale(0.88 1)" >5</text>
<text x="0" y="0" font-size="10.26" text-anchor="end" dominant-baseline="central" fill="#1a1a1a" transform="translate(158.7 183.45) scale(0.88 1)" >0</text>
<text x="0" y="0" font-size="10.26" text-anchor="end" dominant-baseline="central" fill="#1a1a1a" transform="translate(159.2 222.5) scale(0.88 1)" >-5</text>
<text x="0" y="0" font-size="10.26" text-anchor="middle" dominant-baseline="central" fill="#1a1a1a" transform="translate(161.2 230) scale(0.88 1)" >0</text>
<text x="0" y="0" font-size="10.26" text-anchor="middle" dominant-baseline="central" fill="#1a1a1a" transform="translate(216.8 230) scale(0.88 1)" >0.5</text>
<text x="0" y="0" font-size="10.26" text-anchor="middle" dominant-baseline="central" fill="#1a1a1a" transform="translate(272.4 230) scale(0.88 1)" >1</text>
<text x="0" y="0" font-size="10.26" text-anchor="middle" dominant-baseline="central" fill="#1a1a1a" transform="translate(216.8 240.5) scale(0.88 1)" >Time (s)</text>
<text x="0" y="0" font-size="10.26" text-anchor="middle" dominant-baseline="central" fill="#1a1a1a" transform="translate(146.2 182.95) rotate(-90) scale(0.88 1)" >Current (A)</text>
<rect x="161.2" y="262.1" width="111.1" height="79.5" fill="#fff" stroke="none"/>
<polyline points="161.2,266.71 162.13,267.11 163.05,267.6 163.98,268.19 164.9,268.87 165.83,269.64 166.75,270.5 167.68,271.45 168.61,272.47 169.53,273.58 170.46,274.77 171.38,276.03 172.31,277.36 173.24,278.76 174.16,280.22 175.09,281.74 176.01,283.32 176.94,284.94 177.86,286.62 178.79,288.33 179.72,290.08 180.64,291.87 181.57,293.68 182.49,295.51 183.42,297.37 184.35,299.23 185.27,301.1 186.2,302.97 187.12,304.84 188.05,306.71 188.97,308.55 189.9,310.38 190.83,312.19 191.75,313.97 192.68,315.71 193.6,317.42 194.53,319.08 195.46,320.7 196.38,322.27 197.31,323.78 198.23,325.23 199.16,326.61 200.08,327.93 201.01,329.17 201.94,330.35 202.86,331.44 203.79,332.45 204.71,333.38 205.64,334.22 206.57,334.97 207.49,335.64 208.42,336.2 209.34,336.68 210.27,337.06 211.19,337.34 212.12,337.53 213.05,337.62 213.97,337.61 214.9,337.5 215.82,337.29 216.75,336.99 217.68,336.59 218.6,336.1 219.53,335.51 220.45,334.83 221.38,334.06 222.31,333.2 223.23,332.25 224.16,331.23 225.08,330.12 226.01,328.93 226.93,327.67 227.86,326.34 228.79,324.94 229.71,323.48 230.64,321.96 231.56,320.38 232.49,318.76 233.42,317.08 234.34,315.37 235.27,313.62 236.19,311.83 237.12,310.02 238.04,308.19 238.97,306.33 239.9,304.47 240.82,302.6 241.75,300.73 242.67,298.86 243.6,296.99 244.53,295.15 245.45,293.32 246.38,291.51 247.3,289.73 248.23,287.99 249.15,286.28 250.08,284.62 251.01,283 251.93,281.43 252.86,279.92 253.78,278.47 254.71,277.09 255.63,275.77 256.56,274.53 257.49,273.35 258.41,272.26 259.34,271.25 260.26,270.32 261.19,269.48 262.12,268.73 263.04,268.06 263.97,267.5 264.89,267.02 265.82,266.64 266.75,266.36 267.67,266.17 268.6,266.08 269.52,266.09 270.45,266.2 271.37,266.41 272.3,266.71" fill="none" stroke="#2a2aff" stroke-width="1.3" stroke-linejoin="round" stroke-linecap="round" />
<polyline points="161.2,284.59 162.13,284.18 163.05,283.83 163.98,283.53 164.9,283.27 165.83,283.07 166.75,282.92 167.68,282.82 168.61,282.77 169.53,282.78 170.46,282.84 171.38,282.95 172.31,283.11 173.24,283.32 174.16,283.58 175.09,283.9 176.01,284.26 176.94,284.67 177.86,285.13 178.79,285.63 179.72,286.18 180.64,286.77 181.57,287.41 182.49,288.08 183.42,288.79 184.35,289.53 185.27,290.31 186.2,291.13 187.12,291.97 188.05,292.83 188.97,293.73 189.9,294.64 190.83,295.58 191.75,296.53 192.68,297.49 193.6,298.47 194.53,299.46 195.46,300.45 196.38,301.45 197.31,302.45 198.23,303.45 199.16,304.44 200.08,305.43 201.01,306.4 201.94,307.36 202.86,308.31 203.79,309.24 204.71,310.15 205.64,311.04 206.57,311.9 207.49,312.74 208.42,313.54 209.34,314.32 210.27,315.06 211.19,315.76 212.12,316.42 213.05,317.05 213.97,317.63 214.9,318.17 215.82,318.67 216.75,319.11 217.68,319.52 218.6,319.87 219.53,320.17 220.45,320.43 221.38,320.63 222.31,320.78 223.23,320.88 224.16,320.93 225.08,320.92 226.01,320.86 226.93,320.75 227.86,320.59 228.79,320.38 229.71,320.12 230.64,319.8 231.56,319.44 232.49,319.03 233.42,318.57 234.34,318.07 235.27,317.52 236.19,316.93 237.12,316.29 238.04,315.62 238.97,314.91 239.9,314.17 240.82,313.39 241.75,312.57 242.67,311.73 243.6,310.87 244.53,309.97 245.45,309.06 246.38,308.12 247.3,307.17 248.23,306.21 249.15,305.23 250.08,304.24 251.01,303.25 251.93,302.25 252.86,301.25 253.78,300.25 254.71,299.26 255.63,298.27 256.56,297.3 257.49,296.34 258.41,295.39 259.34,294.46 260.26,293.55 261.19,292.66 262.12,291.8 263.04,290.96 263.97,290.16 264.89,289.38 265.82,288.64 266.75,287.94 267.67,287.28 268.6,286.65 269.52,286.07 270.45,285.53 271.37,285.03 272.3,284.59" fill="none" stroke="#ff1a1a" stroke-width="1.3" stroke-linejoin="round" stroke-linecap="round" />
<polyline points="161.2,301.85 162.13,303.93 163.05,306.01 163.98,308.07 164.9,310.11 165.83,312.14 166.75,314.13 167.68,316.1 168.61,318.02 169.53,319.9 170.46,321.73 171.38,323.5 172.31,325.21 173.24,326.87 174.16,328.45 175.09,329.96 176.01,331.39 176.94,332.74 177.86,334.01 178.79,335.19 179.72,336.27 180.64,337.27 181.57,338.16 182.49,338.96 183.42,339.65 184.35,340.25 185.27,340.73 186.2,341.11 187.12,341.38 188.05,341.55 188.97,341.6 189.9,341.55 190.83,341.38 191.75,341.11 192.68,340.73 193.6,340.25 194.53,339.65 195.46,338.96 196.38,338.16 197.31,337.27 198.23,336.27 199.16,335.19 200.08,334.01 201.01,332.74 201.94,331.39 202.86,329.96 203.79,328.45 204.71,326.87 205.64,325.21 206.57,323.5 207.49,321.73 208.42,319.9 209.34,318.02 210.27,316.1 211.19,314.13 212.12,312.14 213.05,310.11 213.97,308.07 214.9,306.01 215.82,303.93 216.75,301.85 217.68,299.77 218.6,297.69 219.53,295.63 220.45,293.59 221.38,291.56 222.31,289.57 223.23,287.6 224.16,285.68 225.08,283.8 226.01,281.98 226.93,280.2 227.86,278.49 228.79,276.83 229.71,275.25 230.64,273.74 231.56,272.31 232.49,270.96 233.42,269.69 234.34,268.51 235.27,267.43 236.19,266.43 237.12,265.54 238.04,264.74 238.97,264.05 239.9,263.45 240.82,262.97 241.75,262.59 242.67,262.32 243.6,262.15 244.53,262.1 245.45,262.15 246.38,262.32 247.3,262.59 248.23,262.97 249.15,263.45 250.08,264.05 251.01,264.74 251.93,265.54 252.86,266.43 253.78,267.43 254.71,268.51 255.63,269.69 256.56,270.96 257.49,272.31 258.41,273.74 259.34,275.25 260.26,276.83 261.19,278.49 262.12,280.2 263.04,281.98 263.97,283.8 264.89,285.68 265.82,287.6 266.75,289.57 267.67,291.56 268.6,293.59 269.52,295.63 270.45,297.69 271.37,299.77 272.3,301.85" fill="none" stroke="#333333" stroke-width="1.3" stroke-linejoin="round" stroke-linecap="round" />
<rect x="161.2" y="262.1" width="111.1" height="79.5" fill="none" stroke="#4d4d4d" stroke-width="1"/>
<line x1="216.75" y1="341.6" x2="216.75" y2="339.6" stroke="#333333" stroke-width="0.8"/>
<line x1="216.75" y1="262.1" x2="216.75" y2="264.1" stroke="#333333" stroke-width="0.8"/>
<line x1="161.2" y1="301.85" x2="163.2" y2="301.85" stroke="#333333" stroke-width="0.8"/>
<line x1="272.3" y1="301.85" x2="270.3" y2="301.85" stroke="#333333" stroke-width="0.8"/>
<text x="0" y="0" font-size="10.26" text-anchor="end" dominant-baseline="central" fill="#1a1a1a" transform="translate(158.7 262.9) scale(0.88 1)" >5</text>
<text x="0" y="0" font-size="10.26" text-anchor="end" dominant-baseline="central" fill="#1a1a1a" transform="translate(158.7 302.35) scale(0.88 1)" >0</text>
<text x="0" y="0" font-size="10.26" text-anchor="end" dominant-baseline="central" fill="#1a1a1a" transform="translate(159.2 342.1) scale(0.88 1)" >-5</text>
<text x="0" y="0" font-size="10.26" text-anchor="middle" dominant-baseline="central" fill="#1a1a1a" transform="translate(161.2 349.6) scale(0.88 1)" >0</text>
<text x="0" y="0" font-size="10.26" text-anchor="middle" dominant-baseline="central" fill="#1a1a1a" transform="translate(216.75 349.6) scale(0.88 1)" >0.5</text>
<text x="0" y="0" font-size="10.26" text-anchor="middle" dominant-baseline="central" fill="#1a1a1a" transform="translate(272.3 349.6) scale(0.88 1)" >1</text>
<text x="0" y="0" font-size="10.26" text-anchor="middle" dominant-baseline="central" fill="#1a1a1a" transform="translate(216.75 360.1) scale(0.88 1)" >Time (s)</text>
<text x="0" y="0" font-size="10.26" text-anchor="middle" dominant-baseline="central" fill="#1a1a1a" transform="translate(146.2 301.85) rotate(-90) scale(0.88 1)" >Current (A)</text>
<rect x="158.1" y="383.4" width="111.3" height="78.7" fill="#fff" stroke="none"/>
<polyline points="158.1,401.39 159.03,401.94 159.95,402.55 160.88,403.22 161.81,403.94 162.74,404.72 163.66,405.54 164.59,406.41 165.52,407.32 166.45,408.28 167.38,409.28 168.3,410.31 169.23,411.38 170.16,412.47 171.08,413.6 172.01,414.75 172.94,415.93 173.87,417.12 174.79,418.33 175.72,419.55 176.65,420.77 177.58,422.01 178.5,423.24 179.43,424.48 180.36,425.71 181.29,426.93 182.22,428.14 183.14,429.34 184.07,430.51 185,431.67 185.92,432.8 186.85,433.91 187.78,434.98 188.71,436.02 189.63,437.02 190.56,437.99 191.49,438.91 192.42,439.79 193.34,440.62 194.27,441.41 195.2,442.14 196.13,442.82 197.05,443.44 197.98,444.01 198.91,444.52 199.84,444.96 200.76,445.35 201.69,445.68 202.62,445.94 203.55,446.14 204.47,446.28 205.4,446.35 206.33,446.35 207.26,446.3 208.19,446.17 209.11,445.99 210.04,445.74 210.97,445.42 211.89,445.05 212.82,444.61 213.75,444.11 214.68,443.56 215.6,442.95 216.53,442.28 217.46,441.56 218.39,440.78 219.31,439.96 220.24,439.09 221.17,438.18 222.1,437.22 223.02,436.22 223.95,435.19 224.88,434.12 225.81,433.03 226.73,431.9 227.66,430.75 228.59,429.57 229.52,428.38 230.44,427.17 231.37,425.95 232.3,424.73 233.23,423.49 234.15,422.26 235.08,421.02 236.01,419.79 236.94,418.57 237.86,417.36 238.79,416.16 239.72,414.99 240.65,413.83 241.57,412.7 242.5,411.59 243.43,410.52 244.36,409.48 245.28,408.48 246.21,407.51 247.14,406.59 248.07,405.71 248.99,404.88 249.92,404.09 250.85,403.36 251.78,402.68 252.7,402.06 253.63,401.49 254.56,400.98 255.49,400.54 256.41,400.15 257.34,399.82 258.27,399.56 259.2,399.36 260.12,399.22 261.05,399.15 261.98,399.15 262.91,399.2 263.83,399.33 264.76,399.51 265.69,399.76 266.62,400.08 267.54,400.45 268.47,400.89 269.4,401.39" fill="none" stroke="#2a2aff" stroke-width="1.3" stroke-linejoin="round" stroke-linecap="round" />
<polyline points="158.1,389.57 159.03,389.39 159.95,389.31 160.88,389.32 161.81,389.42 162.74,389.61 163.66,389.89 164.59,390.27 165.52,390.73 166.45,391.28 167.38,391.92 168.3,392.64 169.23,393.44 170.16,394.32 171.08,395.28 172.01,396.32 172.94,397.43 173.87,398.61 174.79,399.85 175.72,401.16 176.65,402.53 177.58,403.95 178.5,405.42 179.43,406.94 180.36,408.51 181.29,410.11 182.22,411.75 183.14,413.42 184.07,415.11 185,416.83 185.92,418.56 186.85,420.3 187.78,422.05 188.71,423.8 189.63,425.55 190.56,427.29 191.49,429.02 192.42,430.73 193.34,432.42 194.27,434.08 195.2,435.71 196.13,437.31 197.05,438.86 197.98,440.38 198.91,441.84 199.84,443.25 200.76,444.61 201.69,445.9 202.62,447.13 203.55,448.3 204.47,449.39 205.4,450.41 206.33,451.36 207.26,452.23 208.19,453.01 209.11,453.72 210.04,454.34 210.97,454.87 211.89,455.31 212.82,455.67 213.75,455.93 214.68,456.11 215.6,456.19 216.53,456.18 217.46,456.08 218.39,455.89 219.31,455.61 220.24,455.23 221.17,454.77 222.1,454.22 223.02,453.58 223.95,452.86 224.88,452.06 225.81,451.18 226.73,450.22 227.66,449.18 228.59,448.07 229.52,446.89 230.44,445.65 231.37,444.34 232.3,442.97 233.23,441.55 234.15,440.08 235.08,438.56 236.01,436.99 236.94,435.39 237.86,433.75 238.79,432.08 239.72,430.39 240.65,428.67 241.57,426.94 242.5,425.2 243.43,423.45 244.36,421.7 245.28,419.95 246.21,418.21 247.14,416.48 248.07,414.77 248.99,413.08 249.92,411.42 250.85,409.79 251.78,408.19 252.7,406.64 253.63,405.12 254.56,403.66 255.49,402.25 256.41,400.89 257.34,399.6 258.27,398.37 259.2,397.2 260.12,396.11 261.05,395.09 261.98,394.14 262.91,393.27 263.83,392.49 264.76,391.78 265.69,391.16 266.62,390.63 267.54,390.19 268.47,389.83 269.4,389.57" fill="none" stroke="#ff1a1a" stroke-width="1.3" stroke-linejoin="round" stroke-linecap="round" />
<polyline points="158.1,422.75 159.03,424.81 159.95,426.86 160.88,428.91 161.81,430.93 162.74,432.93 163.66,434.91 164.59,436.85 165.52,438.76 166.45,440.61 167.38,442.43 168.3,444.18 169.23,445.88 170.16,447.51 171.08,449.08 172.01,450.57 172.94,451.99 173.87,453.33 174.79,454.58 175.72,455.75 176.65,456.83 177.58,457.81 178.5,458.7 179.43,459.49 180.36,460.17 181.29,460.76 182.22,461.24 183.14,461.62 184.07,461.88 185,462.05 185.92,462.1 186.85,462.05 187.78,461.88 188.71,461.62 189.63,461.24 190.56,460.76 191.49,460.17 192.42,459.49 193.34,458.7 194.27,457.81 195.2,456.83 196.13,455.75 197.05,454.58 197.98,453.33 198.91,451.99 199.84,450.57 200.76,449.08 201.69,447.51 202.62,445.88 203.55,444.18 204.47,442.43 205.4,440.61 206.33,438.76 207.26,436.85 208.19,434.91 209.11,432.93 210.04,430.93 210.97,428.91 211.89,426.86 212.82,424.81 213.75,422.75 214.68,420.69 215.6,418.64 216.53,416.59 217.46,414.57 218.39,412.57 219.31,410.59 220.24,408.65 221.17,406.74 222.1,404.89 223.02,403.07 223.95,401.32 224.88,399.62 225.81,397.99 226.73,396.42 227.66,394.93 228.59,393.51 229.52,392.17 230.44,390.92 231.37,389.75 232.3,388.67 233.23,387.69 234.15,386.8 235.08,386.01 236.01,385.33 236.94,384.74 237.86,384.26 238.79,383.88 239.72,383.62 240.65,383.45 241.57,383.4 242.5,383.45 243.43,383.62 244.36,383.88 245.28,384.26 246.21,384.74 247.14,385.33 248.07,386.01 248.99,386.8 249.92,387.69 250.85,388.67 251.78,389.75 252.7,390.92 253.63,392.17 254.56,393.51 255.49,394.93 256.41,396.42 257.34,397.99 258.27,399.62 259.2,401.32 260.12,403.07 261.05,404.89 261.98,406.74 262.91,408.65 263.83,410.59 264.76,412.57 265.69,414.57 266.62,416.59 267.54,418.64 268.47,420.69 269.4,422.75" fill="none" stroke="#333333" stroke-width="1.3" stroke-linejoin="round" stroke-linecap="round" />
<rect x="158.1" y="383.4" width="111.3" height="78.7" fill="none" stroke="#4d4d4d" stroke-width="1"/>
<line x1="213.75" y1="462.1" x2="213.75" y2="460.1" stroke="#333333" stroke-width="0.8"/>
<line x1="213.75" y1="383.4" x2="213.75" y2="385.4" stroke="#333333" stroke-width="0.8"/>
<line x1="158.1" y1="422.75" x2="160.1" y2="422.75" stroke="#333333" stroke-width="0.8"/>
<line x1="269.4" y1="422.75" x2="267.4" y2="422.75" stroke="#333333" stroke-width="0.8"/>
<text x="0" y="0" font-size="10.26" text-anchor="end" dominant-baseline="central" fill="#1a1a1a" transform="translate(155.6 384.2) scale(0.88 1)" >5</text>
<text x="0" y="0" font-size="10.26" text-anchor="end" dominant-baseline="central" fill="#1a1a1a" transform="translate(155.6 423.25) scale(0.88 1)" >0</text>
<text x="0" y="0" font-size="10.26" text-anchor="end" dominant-baseline="central" fill="#1a1a1a" transform="translate(156.1 462.6) scale(0.88 1)" >-5</text>
<text x="0" y="0" font-size="10.26" text-anchor="middle" dominant-baseline="central" fill="#1a1a1a" transform="translate(158.1 470.1) scale(0.88 1)" >0</text>
<text x="0" y="0" font-size="10.26" text-anchor="middle" dominant-baseline="central" fill="#1a1a1a" transform="translate(213.75 470.1) scale(0.88 1)" >0.5</text>
<text x="0" y="0" font-size="10.26" text-anchor="middle" dominant-baseline="central" fill="#1a1a1a" transform="translate(269.4 470.1) scale(0.88 1)" >1</text>
<text x="0" y="0" font-size="10.26" text-anchor="middle" dominant-baseline="central" fill="#1a1a1a" transform="translate(213.75 480.6) scale(0.88 1)" >Time (s)</text>
<text x="0" y="0" font-size="10.26" text-anchor="middle" dominant-baseline="central" fill="#1a1a1a" transform="translate(143.1 422.75) rotate(-90) scale(0.88 1)" >Current (A)</text>
<rect x="433.6" y="13.6" width="110.8" height="78.3" fill="#fff" stroke="none"/>
<polyline points="433.6,49.97 434.52,50.42 435.45,50.88 436.37,51.34 437.29,51.81 438.22,52.28 439.14,52.75 440.06,53.22 440.99,53.69 441.91,54.16 442.83,54.62 443.76,55.08 444.68,55.53 445.6,55.98 446.53,56.41 447.45,56.84 448.37,57.25 449.3,57.65 450.22,58.04 451.14,58.42 452.07,58.78 452.99,59.12 453.91,59.44 454.84,59.75 455.76,60.03 456.68,60.3 457.61,60.55 458.53,60.77 459.45,60.98 460.38,61.16 461.3,61.31 462.22,61.45 463.15,61.56 464.07,61.64 464.99,61.71 465.92,61.74 466.84,61.75 467.76,61.74 468.69,61.71 469.61,61.64 470.53,61.56 471.46,61.45 472.38,61.31 473.3,61.16 474.23,60.98 475.15,60.77 476.07,60.55 477,60.3 477.92,60.03 478.84,59.75 479.77,59.44 480.69,59.12 481.61,58.78 482.54,58.42 483.46,58.04 484.38,57.65 485.31,57.25 486.23,56.84 487.15,56.41 488.08,55.98 489,55.53 489.92,55.08 490.85,54.62 491.77,54.16 492.69,53.69 493.62,53.22 494.54,52.75 495.46,52.28 496.39,51.81 497.31,51.34 498.23,50.88 499.16,50.42 500.08,49.97 501,49.52 501.93,49.09 502.85,48.66 503.77,48.25 504.7,47.85 505.62,47.46 506.54,47.08 507.47,46.72 508.39,46.38 509.31,46.06 510.24,45.75 511.16,45.47 512.08,45.2 513.01,44.95 513.93,44.73 514.85,44.52 515.78,44.34 516.7,44.19 517.62,44.05 518.55,43.94 519.47,43.86 520.39,43.79 521.32,43.76 522.24,43.75 523.16,43.76 524.09,43.79 525.01,43.86 525.93,43.94 526.86,44.05 527.78,44.19 528.7,44.34 529.63,44.52 530.55,44.73 531.47,44.95 532.4,45.2 533.32,45.47 534.24,45.75 535.17,46.06 536.09,46.38 537.01,46.72 537.94,47.08 538.86,47.46 539.78,47.85 540.71,48.25 541.63,48.66 542.55,49.09 543.48,49.52 544.4,49.97" fill="none" stroke="#2a2aff" stroke-width="1.3" stroke-linejoin="round" stroke-linecap="round" />
<polyline points="433.6,13.6 434.52,13.65 435.45,13.81 436.37,14.08 437.29,14.46 438.22,14.93 439.14,15.52 440.06,16.2 440.99,16.98 441.91,17.87 442.83,18.85 443.76,19.92 444.68,21.08 445.6,22.32 446.53,23.66 447.45,25.07 448.37,26.55 449.3,28.11 450.22,29.74 451.14,31.43 452.07,33.17 452.99,34.98 453.91,36.83 454.84,38.72 455.76,40.65 456.68,42.62 457.61,44.61 458.53,46.63 459.45,48.66 460.38,50.7 461.3,52.75 462.22,54.8 463.15,56.84 464.07,58.87 464.99,60.89 465.92,62.88 466.84,64.85 467.76,66.78 468.69,68.67 469.61,70.52 470.53,72.32 471.46,74.07 472.38,75.76 473.3,77.39 474.23,78.95 475.15,80.43 476.07,81.84 477,83.18 477.92,84.42 478.84,85.58 479.77,86.65 480.69,87.63 481.61,88.52 482.54,89.3 483.46,89.98 484.38,90.57 485.31,91.04 486.23,91.42 487.15,91.69 488.08,91.85 489,91.9 489.92,91.85 490.85,91.69 491.77,91.42 492.69,91.04 493.62,90.57 494.54,89.98 495.46,89.3 496.39,88.52 497.31,87.63 498.23,86.65 499.16,85.58 500.08,84.42 501,83.18 501.93,81.84 502.85,80.43 503.77,78.95 504.7,77.39 505.62,75.76 506.54,74.07 507.47,72.33 508.39,70.52 509.31,68.67 510.24,66.78 511.16,64.85 512.08,62.88 513.01,60.89 513.93,58.87 514.85,56.84 515.78,54.8 516.7,52.75 517.62,50.7 518.55,48.66 519.47,46.63 520.39,44.61 521.32,42.62 522.24,40.65 523.16,38.72 524.09,36.83 525.01,34.98 525.93,33.17 526.86,31.43 527.78,29.74 528.7,28.11 529.63,26.55 530.55,25.07 531.47,23.66 532.4,22.32 533.32,21.08 534.24,19.92 535.17,18.85 536.09,17.87 537.01,16.98 537.94,16.2 538.86,15.52 539.78,14.93 540.71,14.46 541.63,14.08 542.55,13.81 543.48,13.65 544.4,13.6" fill="none" stroke="#ff1a1a" stroke-width="1.3" stroke-linejoin="round" stroke-linecap="round" />
<polyline points="433.6,52.75 434.52,54.8 435.45,56.84 436.37,58.87 437.29,60.89 438.22,62.88 439.14,64.85 440.06,66.78 440.99,68.67 441.91,70.52 442.83,72.33 443.76,74.07 444.68,75.76 445.6,77.39 446.53,78.95 447.45,80.43 448.37,81.84 449.3,83.18 450.22,84.42 451.14,85.58 452.07,86.65 452.99,87.63 453.91,88.52 454.84,89.3 455.76,89.98 456.68,90.57 457.61,91.04 458.53,91.42 459.45,91.69 460.38,91.85 461.3,91.9 462.22,91.85 463.15,91.69 464.07,91.42 464.99,91.04 465.92,90.57 466.84,89.98 467.76,89.3 468.69,88.52 469.61,87.63 470.53,86.65 471.46,85.58 472.38,84.42 473.3,83.18 474.23,81.84 475.15,80.43 476.07,78.95 477,77.39 477.92,75.76 478.84,74.07 479.77,72.32 480.69,70.52 481.61,68.67 482.54,66.78 483.46,64.85 484.38,62.88 485.31,60.89 486.23,58.87 487.15,56.84 488.08,54.8 489,52.75 489.92,50.7 490.85,48.66 491.77,46.63 492.69,44.61 493.62,42.62 494.54,40.65 495.46,38.72 496.39,36.83 497.31,34.98 498.23,33.17 499.16,31.43 500.08,29.74 501,28.11 501.93,26.55 502.85,25.07 503.77,23.66 504.7,22.32 505.62,21.08 506.54,19.92 507.47,18.85 508.39,17.87 509.31,16.98 510.24,16.2 511.16,15.52 512.08,14.93 513.01,14.46 513.93,14.08 514.85,13.81 515.78,13.65 516.7,13.6 517.62,13.65 518.55,13.81 519.47,14.08 520.39,14.46 521.32,14.93 522.24,15.52 523.16,16.2 524.09,16.98 525.01,17.87 525.93,18.85 526.86,19.92 527.78,21.08 528.7,22.32 529.63,23.66 530.55,25.07 531.47,26.55 532.4,28.11 533.32,29.74 534.24,31.43 535.17,33.17 536.09,34.98 537.01,36.83 537.94,38.72 538.86,40.65 539.78,42.62 540.71,44.61 541.63,46.63 542.55,48.66 543.48,50.7 544.4,52.75" fill="none" stroke="#333333" stroke-width="1.3" stroke-linejoin="round" stroke-linecap="round" />
<rect x="433.6" y="13.6" width="110.8" height="78.3" fill="none" stroke="#4d4d4d" stroke-width="1"/>
<line x1="489" y1="91.9" x2="489" y2="89.9" stroke="#333333" stroke-width="0.8"/>
<line x1="489" y1="13.6" x2="489" y2="15.6" stroke="#333333" stroke-width="0.8"/>
<line x1="433.6" y1="52.75" x2="435.6" y2="52.75" stroke="#333333" stroke-width="0.8"/>
<line x1="544.4" y1="52.75" x2="542.4" y2="52.75" stroke="#333333" stroke-width="0.8"/>
<text x="0" y="0" font-size="10.26" text-anchor="end" dominant-baseline="central" fill="#1a1a1a" transform="translate(431.1 14.4) scale(0.88 1)" >5</text>
<text x="0" y="0" font-size="10.26" text-anchor="end" dominant-baseline="central" fill="#1a1a1a" transform="translate(431.1 53.25) scale(0.88 1)" >0</text>
<text x="0" y="0" font-size="10.26" text-anchor="end" dominant-baseline="central" fill="#1a1a1a" transform="translate(431.6 92.4) scale(0.88 1)" >-5</text>
<text x="0" y="0" font-size="10.26" text-anchor="middle" dominant-baseline="central" fill="#1a1a1a" transform="translate(433.6 99.9) scale(0.88 1)" >0</text>
<text x="0" y="0" font-size="10.26" text-anchor="middle" dominant-baseline="central" fill="#1a1a1a" transform="translate(489 99.9) scale(0.88 1)" >0.5</text>
<text x="0" y="0" font-size="10.26" text-anchor="middle" dominant-baseline="central" fill="#1a1a1a" transform="translate(544.4 99.9) scale(0.88 1)" >1</text>
<text x="0" y="0" font-size="10.26" text-anchor="middle" dominant-baseline="central" fill="#1a1a1a" transform="translate(489 110.4) scale(0.88 1)" >Time (s)</text>
<text x="0" y="0" font-size="10.26" text-anchor="middle" dominant-baseline="central" fill="#1a1a1a" transform="translate(418.6 52.75) rotate(-90) scale(0.88 1)" >Current (A)</text>
<rect x="431.8" y="140" width="112.6" height="79.5" fill="#fff" stroke="none"/>
<polyline points="431.8,197.1 432.74,197.54 433.68,197.93 434.62,198.27 435.55,198.56 436.49,198.8 437.43,198.99 438.37,199.12 439.31,199.2 440.25,199.23 441.18,199.2 442.12,199.12 443.06,198.99 444,198.8 444.94,198.56 445.88,198.27 446.81,197.93 447.75,197.54 448.69,197.1 449.63,196.62 450.57,196.09 451.5,195.51 452.44,194.89 453.38,194.22 454.32,193.52 455.26,192.78 456.2,192.01 457.13,191.2 458.07,190.36 459.01,189.49 459.95,188.59 460.89,187.67 461.83,186.73 462.76,185.77 463.7,184.79 464.64,183.8 465.58,182.8 466.52,181.79 467.46,180.77 468.39,179.75 469.33,178.73 470.27,177.71 471.21,176.7 472.15,175.7 473.09,174.71 474.02,173.73 474.96,172.77 475.9,171.83 476.84,170.91 477.78,170.01 478.72,169.14 479.65,168.3 480.59,167.49 481.53,166.72 482.47,165.98 483.41,165.28 484.35,164.61 485.28,163.99 486.22,163.41 487.16,162.88 488.1,162.4 489.04,161.96 489.98,161.57 490.92,161.23 491.85,160.94 492.79,160.7 493.73,160.51 494.67,160.38 495.61,160.3 496.54,160.27 497.48,160.3 498.42,160.38 499.36,160.51 500.3,160.7 501.24,160.94 502.17,161.23 503.11,161.57 504.05,161.96 504.99,162.4 505.93,162.88 506.87,163.41 507.81,163.99 508.74,164.61 509.68,165.28 510.62,165.98 511.56,166.72 512.5,167.49 513.43,168.3 514.37,169.14 515.31,170.01 516.25,170.91 517.19,171.83 518.13,172.77 519.06,173.73 520,174.71 520.94,175.7 521.88,176.7 522.82,177.71 523.76,178.73 524.69,179.75 525.63,180.77 526.57,181.79 527.51,182.8 528.45,183.8 529.39,184.79 530.33,185.77 531.26,186.73 532.2,187.67 533.14,188.59 534.08,189.49 535.02,190.36 535.95,191.2 536.89,192.01 537.83,192.78 538.77,193.52 539.71,194.22 540.65,194.89 541.59,195.51 542.52,196.09 543.46,196.62 544.4,197.1" fill="none" stroke="#2a2aff" stroke-width="1.3" stroke-linejoin="round" stroke-linecap="round" />
<polyline points="431.8,143.97 432.74,144.02 433.68,144.17 434.62,144.42 435.55,144.76 436.49,145.19 437.43,145.73 438.37,146.35 439.31,147.07 440.25,147.87 441.18,148.77 442.12,149.75 443.06,150.81 444,151.95 444.94,153.16 445.88,154.45 446.81,155.81 447.75,157.24 448.69,158.72 449.63,160.27 450.57,161.86 451.5,163.51 452.44,165.2 453.38,166.93 454.32,168.69 455.26,170.49 456.2,172.31 457.13,174.15 458.07,176.01 459.01,177.88 459.95,179.75 460.89,181.62 461.83,183.49 462.76,185.35 463.7,187.19 464.64,189.01 465.58,190.81 466.52,192.57 467.46,194.3 468.39,195.99 469.33,197.64 470.27,199.23 471.21,200.78 472.15,202.26 473.09,203.69 474.02,205.05 474.96,206.34 475.9,207.55 476.84,208.69 477.78,209.75 478.72,210.73 479.65,211.63 480.59,212.43 481.53,213.15 482.47,213.77 483.41,214.31 484.35,214.74 485.28,215.08 486.22,215.33 487.16,215.48 488.1,215.53 489.04,215.48 489.98,215.33 490.92,215.08 491.85,214.74 492.79,214.31 493.73,213.77 494.67,213.15 495.61,212.43 496.54,211.63 497.48,210.73 498.42,209.75 499.36,208.69 500.3,207.55 501.24,206.34 502.17,205.05 503.11,203.69 504.05,202.26 504.99,200.78 505.93,199.23 506.87,197.64 507.81,195.99 508.74,194.3 509.68,192.57 510.62,190.81 511.56,189.01 512.5,187.19 513.43,185.35 514.37,183.49 515.31,181.62 516.25,179.75 517.19,177.88 518.13,176.01 519.06,174.15 520,172.31 520.94,170.49 521.88,168.69 522.82,166.93 523.76,165.2 524.69,163.51 525.63,161.86 526.57,160.27 527.51,158.72 528.45,157.24 529.39,155.81 530.33,154.45 531.26,153.16 532.2,151.95 533.14,150.81 534.08,149.75 535.02,148.77 535.95,147.87 536.89,147.07 537.83,146.35 538.77,145.73 539.71,145.19 540.65,144.76 541.59,144.42 542.52,144.17 543.46,144.02 544.4,143.97" fill="none" stroke="#ff1a1a" stroke-width="1.3" stroke-linejoin="round" stroke-linecap="round" />
<polyline points="431.8,179.75 432.74,181.83 433.68,183.91 434.62,185.97 435.55,188.01 436.49,190.04 437.43,192.03 438.37,194 439.31,195.92 440.25,197.8 441.18,199.63 442.12,201.4 443.06,203.11 444,204.77 444.94,206.35 445.88,207.86 446.81,209.29 447.75,210.64 448.69,211.91 449.63,213.09 450.57,214.17 451.5,215.17 452.44,216.06 453.38,216.86 454.32,217.55 455.26,218.15 456.2,218.63 457.13,219.01 458.07,219.28 459.01,219.45 459.95,219.5 460.89,219.45 461.83,219.28 462.76,219.01 463.7,218.63 464.64,218.15 465.58,217.55 466.52,216.86 467.46,216.06 468.39,215.17 469.33,214.17 470.27,213.09 471.21,211.91 472.15,210.64 473.09,209.29 474.02,207.86 474.96,206.35 475.9,204.77 476.84,203.11 477.78,201.4 478.72,199.62 479.65,197.8 480.59,195.92 481.53,194 482.47,192.03 483.41,190.04 484.35,188.01 485.28,185.97 486.22,183.91 487.16,181.83 488.1,179.75 489.04,177.67 489.98,175.59 490.92,173.53 491.85,171.49 492.79,169.46 493.73,167.47 494.67,165.5 495.61,163.58 496.54,161.7 497.48,159.88 498.42,158.1 499.36,156.39 500.3,154.73 501.24,153.15 502.17,151.64 503.11,150.21 504.05,148.86 504.99,147.59 505.93,146.41 506.87,145.33 507.81,144.33 508.74,143.44 509.68,142.64 510.62,141.95 511.56,141.35 512.5,140.87 513.43,140.49 514.37,140.22 515.31,140.05 516.25,140 517.19,140.05 518.13,140.22 519.06,140.49 520,140.87 520.94,141.35 521.88,141.95 522.82,142.64 523.76,143.44 524.69,144.33 525.63,145.33 526.57,146.41 527.51,147.59 528.45,148.86 529.39,150.21 530.33,151.64 531.26,153.15 532.2,154.73 533.14,156.39 534.08,158.1 535.02,159.88 535.95,161.7 536.89,163.58 537.83,165.5 538.77,167.47 539.71,169.46 540.65,171.49 541.59,173.53 542.52,175.59 543.46,177.67 544.4,179.75" fill="none" stroke="#333333" stroke-width="1.3" stroke-linejoin="round" stroke-linecap="round" />
<rect x="431.8" y="140" width="112.6" height="79.5" fill="none" stroke="#4d4d4d" stroke-width="1"/>
<line x1="488.1" y1="219.5" x2="488.1" y2="217.5" stroke="#333333" stroke-width="0.8"/>
<line x1="488.1" y1="140" x2="488.1" y2="142" stroke="#333333" stroke-width="0.8"/>
<line x1="431.8" y1="179.75" x2="433.8" y2="179.75" stroke="#333333" stroke-width="0.8"/>
<line x1="544.4" y1="179.75" x2="542.4" y2="179.75" stroke="#333333" stroke-width="0.8"/>
<text x="0" y="0" font-size="10.26" text-anchor="end" dominant-baseline="central" fill="#1a1a1a" transform="translate(429.3 140.8) scale(0.88 1)" >5</text>
<text x="0" y="0" font-size="10.26" text-anchor="end" dominant-baseline="central" fill="#1a1a1a" transform="translate(429.3 180.25) scale(0.88 1)" >0</text>
<text x="0" y="0" font-size="10.26" text-anchor="end" dominant-baseline="central" fill="#1a1a1a" transform="translate(429.8 220) scale(0.88 1)" >-5</text>
<text x="0" y="0" font-size="10.26" text-anchor="middle" dominant-baseline="central" fill="#1a1a1a" transform="translate(431.8 227.5) scale(0.88 1)" >0</text>
<text x="0" y="0" font-size="10.26" text-anchor="middle" dominant-baseline="central" fill="#1a1a1a" transform="translate(488.1 227.5) scale(0.88 1)" >0.5</text>
<text x="0" y="0" font-size="10.26" text-anchor="middle" dominant-baseline="central" fill="#1a1a1a" transform="translate(544.4 227.5) scale(0.88 1)" >1</text>
<text x="0" y="0" font-size="10.26" text-anchor="middle" dominant-baseline="central" fill="#1a1a1a" transform="translate(488.1 238) scale(0.88 1)" >Time (s)</text>
<text x="0" y="0" font-size="10.26" text-anchor="middle" dominant-baseline="central" fill="#1a1a1a" transform="translate(416.8 179.75) rotate(-90) scale(0.88 1)" >Current (A)</text>
<rect x="427.6" y="264.2" width="115.7" height="82.6" fill="#fff" stroke="none"/>
<polyline points="427.6,339.51 428.56,339.69 429.53,339.77 430.49,339.76 431.46,339.66 432.42,339.46 433.38,339.17 434.35,338.79 435.31,338.32 436.28,337.75 437.24,337.1 438.21,336.36 439.17,335.54 440.13,334.63 441.1,333.65 442.06,332.59 443.03,331.45 443.99,330.24 444.96,328.97 445.92,327.63 446.88,326.23 447.85,324.77 448.81,323.26 449.78,321.7 450.74,320.1 451.7,318.45 452.67,316.77 453.63,315.06 454.6,313.33 455.56,311.57 456.52,309.8 457.49,308.01 458.45,306.22 459.42,304.42 460.38,302.63 461.35,300.85 462.31,299.08 463.27,297.32 464.24,295.59 465.2,293.89 466.17,292.22 467.13,290.58 468.1,288.99 469.06,287.44 470.02,285.94 470.99,284.49 471.95,283.1 472.92,281.77 473.88,280.51 474.84,279.32 475.81,278.2 476.77,277.15 477.74,276.18 478.7,275.29 479.66,274.48 480.63,273.76 481.59,273.13 482.56,272.58 483.52,272.13 484.49,271.76 485.45,271.49 486.41,271.31 487.38,271.23 488.34,271.24 489.31,271.34 490.27,271.54 491.24,271.83 492.2,272.21 493.16,272.68 494.13,273.25 495.09,273.9 496.06,274.64 497.02,275.46 497.98,276.37 498.95,277.35 499.91,278.41 500.88,279.55 501.84,280.76 502.8,282.03 503.77,283.37 504.73,284.77 505.7,286.23 506.66,287.74 507.63,289.3 508.59,290.9 509.55,292.55 510.52,294.23 511.48,295.94 512.45,297.67 513.41,299.43 514.38,301.2 515.34,302.99 516.3,304.78 517.27,306.58 518.23,308.37 519.2,310.15 520.16,311.92 521.12,313.68 522.09,315.41 523.05,317.11 524.02,318.78 524.98,320.42 525.94,322.01 526.91,323.56 527.87,325.06 528.84,326.51 529.8,327.9 530.77,329.23 531.73,330.49 532.69,331.68 533.66,332.8 534.62,333.85 535.59,334.82 536.55,335.71 537.51,336.52 538.48,337.24 539.44,337.87 540.41,338.42 541.37,338.87 542.34,339.24 543.3,339.51" fill="none" stroke="#2a2aff" stroke-width="1.3" stroke-linejoin="round" stroke-linecap="round" />
<polyline points="427.6,282.3 428.56,282.64 429.53,283.05 430.49,283.52 431.46,284.04 432.42,284.63 433.38,285.27 434.35,285.97 435.31,286.73 436.28,287.53 437.24,288.39 438.21,289.29 439.17,290.23 440.13,291.22 441.1,292.24 442.06,293.31 443.03,294.4 443.99,295.53 444.96,296.68 445.92,297.86 446.88,299.06 447.85,300.27 448.81,301.51 449.78,302.75 450.74,304 451.7,305.25 452.67,306.5 453.63,307.75 454.6,309 455.56,310.23 456.52,311.46 457.49,312.66 458.45,313.85 459.42,315.01 460.38,316.15 461.35,317.26 462.31,318.34 463.27,319.38 464.24,320.38 465.2,321.34 466.17,322.26 467.13,323.13 468.1,323.96 469.06,324.73 470.02,325.45 470.99,326.12 471.95,326.73 472.92,327.28 473.88,327.77 474.84,328.2 475.81,328.57 476.77,328.88 477.74,329.12 478.7,329.3 479.66,329.41 480.63,329.45 481.59,329.43 482.56,329.35 483.52,329.2 484.49,328.98 485.45,328.7 486.41,328.36 487.38,327.95 488.34,327.48 489.31,326.96 490.27,326.37 491.24,325.73 492.2,325.03 493.16,324.27 494.13,323.47 495.09,322.61 496.06,321.71 497.02,320.77 497.98,319.78 498.95,318.76 499.91,317.69 500.88,316.6 501.84,315.47 502.8,314.32 503.77,313.14 504.73,311.94 505.7,310.73 506.66,309.49 507.63,308.25 508.59,307 509.55,305.75 510.52,304.5 511.48,303.25 512.45,302 513.41,300.77 514.38,299.54 515.34,298.34 516.3,297.15 517.27,295.99 518.23,294.85 519.2,293.74 520.16,292.66 521.12,291.62 522.09,290.62 523.05,289.66 524.02,288.74 524.98,287.87 525.94,287.04 526.91,286.27 527.87,285.55 528.84,284.88 529.8,284.27 530.77,283.72 531.73,283.23 532.69,282.8 533.66,282.43 534.62,282.12 535.59,281.88 536.55,281.7 537.51,281.59 538.48,281.55 539.44,281.57 540.41,281.65 541.37,281.8 542.34,282.02 543.3,282.3" fill="none" stroke="#ff1a1a" stroke-width="1.3" stroke-linejoin="round" stroke-linecap="round" />
<polyline points="427.6,305.5 428.56,307.66 429.53,309.82 430.49,311.96 431.46,314.09 432.42,316.19 433.38,318.26 434.35,320.3 435.31,322.3 436.28,324.25 437.24,326.15 438.21,327.99 439.17,329.78 440.13,331.49 441.1,333.14 442.06,334.7 443.03,336.19 443.99,337.6 444.96,338.91 445.92,340.14 446.88,341.27 447.85,342.3 448.81,343.23 449.78,344.06 450.74,344.78 451.7,345.39 452.67,345.9 453.63,346.29 454.6,346.57 455.56,346.74 456.52,346.8 457.49,346.74 458.45,346.57 459.42,346.29 460.38,345.9 461.35,345.39 462.31,344.78 463.27,344.06 464.24,343.23 465.2,342.3 466.17,341.27 467.13,340.14 468.1,338.91 469.06,337.6 470.02,336.19 470.99,334.7 471.95,333.14 472.92,331.49 473.88,329.78 474.84,327.99 475.81,326.15 476.77,324.25 477.74,322.3 478.7,320.3 479.66,318.26 480.63,316.19 481.59,314.09 482.56,311.96 483.52,309.82 484.49,307.66 485.45,305.5 486.41,303.34 487.38,301.18 488.34,299.04 489.31,296.91 490.27,294.81 491.24,292.74 492.2,290.7 493.16,288.7 494.13,286.75 495.09,284.85 496.06,283.01 497.02,281.22 497.98,279.51 498.95,277.86 499.91,276.3 500.88,274.81 501.84,273.4 502.8,272.09 503.77,270.86 504.73,269.73 505.7,268.7 506.66,267.77 507.63,266.94 508.59,266.22 509.55,265.61 510.52,265.1 511.48,264.71 512.45,264.43 513.41,264.26 514.38,264.2 515.34,264.26 516.3,264.43 517.27,264.71 518.23,265.1 519.2,265.61 520.16,266.22 521.12,266.94 522.09,267.77 523.05,268.7 524.02,269.73 524.98,270.86 525.94,272.09 526.91,273.4 527.87,274.81 528.84,276.3 529.8,277.86 530.77,279.51 531.73,281.22 532.69,283.01 533.66,284.85 534.62,286.75 535.59,288.7 536.55,290.7 537.51,292.74 538.48,294.81 539.44,296.91 540.41,299.04 541.37,301.18 542.34,303.34 543.3,305.5" fill="none" stroke="#333333" stroke-width="1.3" stroke-linejoin="round" stroke-linecap="round" />
<rect x="427.6" y="264.2" width="115.7" height="82.6" fill="none" stroke="#4d4d4d" stroke-width="1"/>
<line x1="485.45" y1="346.8" x2="485.45" y2="344.8" stroke="#333333" stroke-width="0.8"/>
<line x1="485.45" y1="264.2" x2="485.45" y2="266.2" stroke="#333333" stroke-width="0.8"/>
<line x1="427.6" y1="305.5" x2="429.6" y2="305.5" stroke="#333333" stroke-width="0.8"/>
<line x1="543.3" y1="305.5" x2="541.3" y2="305.5" stroke="#333333" stroke-width="0.8"/>
<text x="0" y="0" font-size="10.26" text-anchor="end" dominant-baseline="central" fill="#1a1a1a" transform="translate(425.1 265) scale(0.88 1)" >5</text>
<text x="0" y="0" font-size="10.26" text-anchor="end" dominant-baseline="central" fill="#1a1a1a" transform="translate(425.1 306) scale(0.88 1)" >0</text>
<text x="0" y="0" font-size="10.26" text-anchor="end" dominant-baseline="central" fill="#1a1a1a" transform="translate(425.6 347.3) scale(0.88 1)" >-5</text>
<text x="0" y="0" font-size="10.26" text-anchor="middle" dominant-baseline="central" fill="#1a1a1a" transform="translate(427.6 354.8) scale(0.88 1)" >0</text>
<text x="0" y="0" font-size="10.26" text-anchor="middle" dominant-baseline="central" fill="#1a1a1a" transform="translate(485.45 354.8) scale(0.88 1)" >0.5</text>
<text x="0" y="0" font-size="10.26" text-anchor="middle" dominant-baseline="central" fill="#1a1a1a" transform="translate(543.3 354.8) scale(0.88 1)" >1</text>
<text x="0" y="0" font-size="10.26" text-anchor="middle" dominant-baseline="central" fill="#1a1a1a" transform="translate(485.45 365.3) scale(0.88 1)" >Time (s)</text>
<text x="0" y="0" font-size="10.26" text-anchor="middle" dominant-baseline="central" fill="#1a1a1a" transform="translate(412.6 305.5) rotate(-90) scale(0.88 1)" >Current (A)</text>
<rect x="427.8" y="383.4" width="114.7" height="80.8" fill="#fff" stroke="none"/>
<polyline points="427.8,464.2 428.76,464.14 429.71,463.98 430.67,463.7 431.62,463.32 432.58,462.82 433.54,462.22 434.49,461.52 435.45,460.71 436.4,459.8 437.36,458.79 438.31,457.68 439.27,456.48 440.23,455.2 441.18,453.82 442.14,452.37 443.09,450.83 444.05,449.22 445,447.55 445.96,445.8 446.92,444 447.87,442.14 448.83,440.23 449.78,438.28 450.74,436.28 451.7,434.26 452.65,432.2 453.61,430.12 454.56,428.02 455.52,425.91 456.48,423.8 457.43,421.69 458.39,419.58 459.34,417.48 460.3,415.4 461.25,413.34 462.21,411.32 463.17,409.32 464.12,407.37 465.08,405.46 466.03,403.6 466.99,401.8 467.94,400.05 468.9,398.38 469.86,396.77 470.81,395.23 471.77,393.78 472.72,392.4 473.68,391.12 474.64,389.92 475.59,388.81 476.55,387.8 477.5,386.89 478.46,386.08 479.42,385.38 480.37,384.78 481.33,384.28 482.28,383.9 483.24,383.62 484.19,383.46 485.15,383.4 486.11,383.46 487.06,383.62 488.02,383.9 488.97,384.28 489.93,384.78 490.88,385.38 491.84,386.08 492.8,386.89 493.75,387.8 494.71,388.81 495.66,389.92 496.62,391.12 497.58,392.4 498.53,393.78 499.49,395.23 500.44,396.77 501.4,398.38 502.36,400.05 503.31,401.8 504.27,403.6 505.22,405.46 506.18,407.37 507.13,409.32 508.09,411.32 509.05,413.34 510,415.4 510.96,417.48 511.91,419.58 512.87,421.69 513.83,423.8 514.78,425.91 515.74,428.02 516.69,430.12 517.65,432.2 518.6,434.26 519.56,436.28 520.52,438.28 521.47,440.23 522.43,442.14 523.38,444 524.34,445.8 525.29,447.55 526.25,449.22 527.21,450.83 528.16,452.37 529.12,453.82 530.07,455.2 531.03,456.48 531.99,457.68 532.94,458.79 533.9,459.8 534.85,460.71 535.81,461.52 536.76,462.22 537.72,462.82 538.68,463.32 539.63,463.7 540.59,463.98 541.54,464.14 542.5,464.2" fill="none" stroke="#2a2aff" stroke-width="1.3" stroke-linejoin="round" stroke-linecap="round" />
<polyline points="427.8,420.55 428.76,421.08 429.71,421.62 430.67,422.16 431.62,422.7 432.58,423.25 433.54,423.8 434.49,424.35 435.45,424.9 436.4,425.44 437.36,425.98 438.31,426.52 439.27,427.05 440.23,427.56 441.18,428.07 442.14,428.57 443.09,429.05 444.05,429.52 445,429.97 445.96,430.41 446.92,430.83 447.87,431.23 448.83,431.61 449.78,431.96 450.74,432.3 451.7,432.61 452.65,432.9 453.61,433.16 454.56,433.4 455.52,433.61 456.48,433.79 457.43,433.95 458.39,434.07 459.34,434.17 460.3,434.25 461.25,434.29 462.21,434.3 463.17,434.29 464.12,434.25 465.08,434.17 466.03,434.07 466.99,433.95 467.94,433.79 468.9,433.61 469.86,433.4 470.81,433.16 471.77,432.9 472.72,432.61 473.68,432.3 474.64,431.96 475.59,431.61 476.55,431.23 477.5,430.83 478.46,430.41 479.42,429.97 480.37,429.52 481.33,429.05 482.28,428.57 483.24,428.07 484.19,427.56 485.15,427.05 486.11,426.52 487.06,425.98 488.02,425.44 488.97,424.9 489.93,424.35 490.88,423.8 491.84,423.25 492.8,422.7 493.75,422.16 494.71,421.62 495.66,421.08 496.62,420.55 497.58,420.04 498.53,419.53 499.49,419.03 500.44,418.55 501.4,418.08 502.36,417.63 503.31,417.19 504.27,416.77 505.22,416.37 506.18,415.99 507.13,415.64 508.09,415.3 509.05,414.99 510,414.7 510.96,414.44 511.91,414.2 512.87,413.99 513.83,413.81 514.78,413.65 515.74,413.53 516.69,413.43 517.65,413.35 518.6,413.31 519.56,413.3 520.52,413.31 521.47,413.35 522.43,413.43 523.38,413.53 524.34,413.65 525.29,413.81 526.25,413.99 527.21,414.2 528.16,414.44 529.12,414.7 530.07,414.99 531.03,415.3 531.99,415.64 532.94,415.99 533.9,416.37 534.85,416.77 535.81,417.19 536.76,417.63 537.72,418.08 538.68,418.55 539.63,419.03 540.59,419.53 541.54,420.04 542.5,420.55" fill="none" stroke="#ff1a1a" stroke-width="1.3" stroke-linejoin="round" stroke-linecap="round" />
<polyline points="427.8,423.8 428.76,425.91 429.71,428.02 430.67,430.12 431.62,432.2 432.58,434.26 433.54,436.28 434.49,438.28 435.45,440.23 436.4,442.14 437.36,444 438.31,445.8 439.27,447.55 440.23,449.22 441.18,450.83 442.14,452.37 443.09,453.82 444.05,455.2 445,456.48 445.96,457.68 446.92,458.79 447.87,459.8 448.83,460.71 449.78,461.52 450.74,462.22 451.7,462.82 452.65,463.32 453.61,463.7 454.56,463.98 455.52,464.14 456.48,464.2 457.43,464.14 458.39,463.98 459.34,463.7 460.3,463.32 461.25,462.82 462.21,462.22 463.17,461.52 464.12,460.71 465.08,459.8 466.03,458.79 466.99,457.68 467.94,456.48 468.9,455.2 469.86,453.82 470.81,452.37 471.77,450.83 472.72,449.22 473.68,447.55 474.64,445.8 475.59,444 476.55,442.14 477.5,440.23 478.46,438.28 479.42,436.28 480.37,434.26 481.33,432.2 482.28,430.12 483.24,428.02 484.19,425.91 485.15,423.8 486.11,421.69 487.06,419.58 488.02,417.48 488.97,415.4 489.93,413.34 490.88,411.32 491.84,409.32 492.8,407.37 493.75,405.46 494.71,403.6 495.66,401.8 496.62,400.05 497.58,398.38 498.53,396.77 499.49,395.23 500.44,393.78 501.4,392.4 502.36,391.12 503.31,389.92 504.27,388.81 505.22,387.8 506.18,386.89 507.13,386.08 508.09,385.38 509.05,384.78 510,384.28 510.96,383.9 511.91,383.62 512.87,383.46 513.83,383.4 514.78,383.46 515.74,383.62 516.69,383.9 517.65,384.28 518.6,384.78 519.56,385.38 520.52,386.08 521.47,386.89 522.43,387.8 523.38,388.81 524.34,389.92 525.29,391.12 526.25,392.4 527.21,393.78 528.16,395.23 529.12,396.77 530.07,398.38 531.03,400.05 531.99,401.8 532.94,403.6 533.9,405.46 534.85,407.37 535.81,409.32 536.76,411.32 537.72,413.34 538.68,415.4 539.63,417.48 540.59,419.58 541.54,421.69 542.5,423.8" fill="none" stroke="#333333" stroke-width="1.3" stroke-linejoin="round" stroke-linecap="round" />
<rect x="427.8" y="383.4" width="114.7" height="80.8" fill="none" stroke="#4d4d4d" stroke-width="1"/>
<line x1="485.15" y1="464.2" x2="485.15" y2="462.2" stroke="#333333" stroke-width="0.8"/>
<line x1="485.15" y1="383.4" x2="485.15" y2="385.4" stroke="#333333" stroke-width="0.8"/>
<line x1="427.8" y1="423.8" x2="429.8" y2="423.8" stroke="#333333" stroke-width="0.8"/>
<line x1="542.5" y1="423.8" x2="540.5" y2="423.8" stroke="#333333" stroke-width="0.8"/>
<text x="0" y="0" font-size="10.26" text-anchor="end" dominant-baseline="central" fill="#1a1a1a" transform="translate(425.3 384.2) scale(0.88 1)" >5</text>
<text x="0" y="0" font-size="10.26" text-anchor="end" dominant-baseline="central" fill="#1a1a1a" transform="translate(425.3 424.3) scale(0.88 1)" >0</text>
<text x="0" y="0" font-size="10.26" text-anchor="end" dominant-baseline="central" fill="#1a1a1a" transform="translate(425.8 464.7) scale(0.88 1)" >-5</text>
<text x="0" y="0" font-size="10.26" text-anchor="middle" dominant-baseline="central" fill="#1a1a1a" transform="translate(427.8 472.2) scale(0.88 1)" >0</text>
<text x="0" y="0" font-size="10.26" text-anchor="middle" dominant-baseline="central" fill="#1a1a1a" transform="translate(485.15 472.2) scale(0.88 1)" >0.5</text>
<text x="0" y="0" font-size="10.26" text-anchor="middle" dominant-baseline="central" fill="#1a1a1a" transform="translate(542.5 472.2) scale(0.88 1)" >1</text>
<text x="0" y="0" font-size="10.26" text-anchor="middle" dominant-baseline="central" fill="#1a1a1a" transform="translate(485.15 482.7) scale(0.88 1)" >Time (s)</text>
<text x="0" y="0" font-size="10.26" text-anchor="middle" dominant-baseline="central" fill="#1a1a1a" transform="translate(412.8 423.8) rotate(-90) scale(0.88 1)" >Current (A)</text>
<text x="0" y="0" font-size="11" text-anchor="middle" dominant-baseline="central" fill="#1a1a1a" transform="translate(147 246.8) scale(1.0 1)" class="b">(b)</text>
<text x="0" y="0" font-size="11" text-anchor="middle" dominant-baseline="central" fill="#1a1a1a" transform="translate(149.5 367.2) scale(1.0 1)" class="b">(c)</text>
<text x="0" y="0" font-size="11" text-anchor="middle" dominant-baseline="central" fill="#1a1a1a" transform="translate(146.5 487) scale(1.0 1)" class="b">(d)</text>
<text x="0" y="0" font-size="11" text-anchor="middle" dominant-baseline="central" fill="#1a1a1a" transform="translate(423.5 115.5) scale(1.0 1)" class="b">(e)</text>
<text x="0" y="0" font-size="11" text-anchor="middle" dominant-baseline="central" fill="#1a1a1a" transform="translate(419.2 245.3) scale(1.0 1)" class="b">(f)</text>
<text x="0" y="0" font-size="11" text-anchor="middle" dominant-baseline="central" fill="#1a1a1a" transform="translate(419 365.4) scale(1.0 1)" class="b">(g)</text>
<text x="0" y="0" font-size="11" text-anchor="middle" dominant-baseline="central" fill="#1a1a1a" transform="translate(421.6 487) scale(1.0 1)" class="b">(h)</text>
<line x1="173.2" y1="147.9" x2="181.2" y2="147.9" stroke="#2a2aff" stroke-width="1"/>
<line x1="192.5" y1="147.9" x2="201.3" y2="147.9" stroke="#ff1a1a" stroke-width="1"/>
<line x1="211" y1="147.9" x2="219.7" y2="147.9" stroke="#333333" stroke-width="1"/>
<text x="183.2" y="149.3" font-size="10" font-style="italic" dominant-baseline="central" fill="#1a1a1a">I<tspan font-size="6" dy="3">x</tspan></text>
<text x="202.8" y="149.3" font-size="10" font-style="italic" dominant-baseline="central" fill="#1a1a1a">I<tspan font-size="6" dy="3">y</tspan></text>
<text x="220.3" y="149.3" font-size="10" font-style="italic" dominant-baseline="central" fill="#1a1a1a">I<tspan font-size="6" dy="3">z</tspan></text>
</svg></body></html>
